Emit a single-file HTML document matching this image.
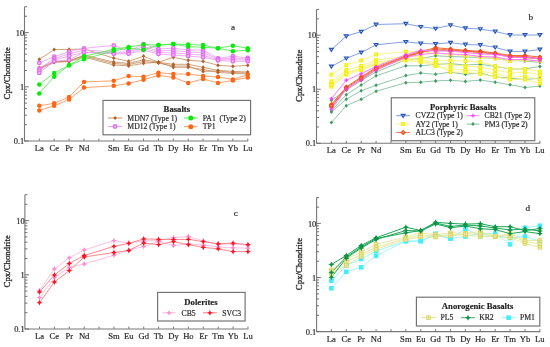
<!DOCTYPE html>
<html><head><meta charset="utf-8"><title>REE patterns</title>
<style>
html,body{margin:0;padding:0;background:#fff;}
body{width:550px;height:347px;overflow:hidden;font-family:"Liberation Serif",serif;}
svg{display:block;will-change:transform;}
</style></head><body>
<svg width="550" height="347" viewBox="0 0 550 347" font-family="Liberation Serif, serif" fill="#1e1e1e"><style>text{stroke:#2a2a2a;stroke-width:0.18px;}</style><rect width="550" height="347" fill="#fff"/><path d="M39.3 59.4 L54.19 49.6 L69.08 49.4 L83.97 49 L113.75 58.1 L128.64 61.3 L143.53 56.2 L158.42 62.3 L173.31 57.3 L188.2 60.3 L203.09 61.3 L217.98 65.3 L232.87 66.3 L247.76 65.3" fill="none" stroke="#c48a5a" stroke-width="0.8" stroke-linejoin="round"/><path d="M39.3 67.7 L54.19 61.5 L69.08 61.5 L83.97 55 L113.75 62.1 L128.64 63.3 L143.53 59.8 L158.42 62.3 L173.31 64.3 L188.2 64.3 L203.09 67.3 L217.98 70.4 L232.87 71.4 L247.76 72" fill="none" stroke="#c48a5a" stroke-width="0.8" stroke-linejoin="round"/><path d="M39.3 69 L54.19 62.5 L69.08 61.5 L83.97 57 L113.75 65 L128.64 65.9 L143.53 63.3 L158.42 62.3 L173.31 67.3 L188.2 67.3 L203.09 69.4 L217.98 72.4 L232.87 73.4 L247.76 74" fill="none" stroke="#c48a5a" stroke-width="0.8" stroke-linejoin="round"/><path d="M39.3 68.5 L54.19 62 L69.08 60.5 L83.97 56 L113.75 63.5 L128.64 64.5 L143.53 61.5 L158.42 63 L173.31 66 L188.2 66 L203.09 71.4 L217.98 71 L232.87 72.5 L247.76 73" fill="none" stroke="#c48a5a" stroke-width="0.8" stroke-linejoin="round"/><path d="M39.3 62.9 L54.19 56.7 L69.08 51.7 L83.97 48.3 L113.75 45.4 L128.64 51.2 L143.53 44.1 L158.42 49 L173.31 48.2 L188.2 50 L203.09 50 L217.98 58.3 L232.87 56.2 L247.76 57.9" fill="none" stroke="#ee99f4" stroke-width="0.8" stroke-linejoin="round"/><path d="M39.3 68.7 L54.19 58.5 L69.08 54 L83.97 50 L113.75 52 L128.64 52 L143.53 46.5 L158.42 51 L173.31 50.5 L188.2 52 L203.09 52.5 L217.98 59 L232.87 58 L247.76 59" fill="none" stroke="#ee99f4" stroke-width="0.8" stroke-linejoin="round"/><path d="M39.3 70.7 L54.19 60.2 L69.08 56 L83.97 52.3 L113.75 53 L128.64 53 L143.53 48.5 L158.42 52.5 L173.31 53 L188.2 54 L203.09 55 L217.98 60 L232.87 59.5 L247.76 60.3" fill="none" stroke="#ee99f4" stroke-width="0.8" stroke-linejoin="round"/><path d="M39.3 72.9 L54.19 61.3 L69.08 59.8 L83.97 52.3 L113.75 53.8 L128.64 53.8 L143.53 50.2 L158.42 54 L173.31 55.2 L188.2 56 L203.09 57.3 L217.98 60.3 L232.87 61.3 L247.76 61.3" fill="none" stroke="#ee99f4" stroke-width="0.8" stroke-linejoin="round"/><path d="M39.3 84.4 L54.19 72.9 L69.08 65.3 L83.97 56.3 L113.75 49.2 L128.64 47.1 L143.53 44.5 L158.42 45.1 L173.31 44.1 L188.2 44.5 L203.09 45.1 L217.98 48.2 L232.87 45.7 L247.76 48.2" fill="none" stroke="#40ec40" stroke-width="0.8" stroke-linejoin="round"/><path d="M39.3 93.4 L54.19 76.7 L69.08 65.3 L83.97 59.2 L113.75 50.8 L128.64 48.1 L143.53 49.8 L158.42 45.1 L173.31 44.1 L188.2 46.6 L203.09 47.2 L217.98 48.2 L232.87 51.2 L247.76 50.2" fill="none" stroke="#40ec40" stroke-width="0.8" stroke-linejoin="round"/><path d="M39.3 105.8 L54.19 103.3 L69.08 96.9 L83.97 82 L113.75 80.8 L128.64 76 L143.53 76.8 L158.42 72.7 L173.31 74 L188.2 74 L203.09 76 L217.98 77 L232.87 79.5 L247.76 74.8" fill="none" stroke="#ff8a4a" stroke-width="0.8" stroke-linejoin="round"/><path d="M39.3 110.4 L54.19 105.8 L69.08 99.5 L83.97 87.6 L113.75 85.8 L128.64 83.4 L143.53 79.8 L158.42 75.4 L173.31 77.4 L188.2 82.9 L203.09 78.9 L217.98 82.9 L232.87 80.5 L247.76 77.4" fill="none" stroke="#ff8a4a" stroke-width="0.8" stroke-linejoin="round"/><path d="M39.3 57.3L41.08 59.4L39.3 61.5L37.52 59.4Z" fill="#b0622a"/><path d="M54.19 47.5L55.97 49.6L54.19 51.7L52.41 49.6Z" fill="#b0622a"/><path d="M69.08 47.3L70.86 49.4L69.08 51.5L67.3 49.4Z" fill="#b0622a"/><path d="M83.97 46.9L85.75 49L83.97 51.1L82.19 49Z" fill="#b0622a"/><path d="M113.75 56L115.53 58.1L113.75 60.2L111.97 58.1Z" fill="#b0622a"/><path d="M128.64 59.2L130.42 61.3L128.64 63.4L126.85 61.3Z" fill="#b0622a"/><path d="M143.53 54.1L145.31 56.2L143.53 58.3L141.75 56.2Z" fill="#b0622a"/><path d="M158.42 60.2L160.21 62.3L158.42 64.4L156.64 62.3Z" fill="#b0622a"/><path d="M173.31 55.2L175.09 57.3L173.31 59.4L171.53 57.3Z" fill="#b0622a"/><path d="M188.2 58.2L189.98 60.3L188.2 62.4L186.41 60.3Z" fill="#b0622a"/><path d="M203.09 59.2L204.88 61.3L203.09 63.4L201.31 61.3Z" fill="#b0622a"/><path d="M217.98 63.2L219.77 65.3L217.98 67.4L216.2 65.3Z" fill="#b0622a"/><path d="M232.87 64.2L234.66 66.3L232.87 68.4L231.09 66.3Z" fill="#b0622a"/><path d="M247.76 63.2L249.54 65.3L247.76 67.4L245.97 65.3Z" fill="#b0622a"/><path d="M39.3 65.6L41.08 67.7L39.3 69.8L37.52 67.7Z" fill="#b0622a"/><path d="M54.19 59.4L55.97 61.5L54.19 63.6L52.41 61.5Z" fill="#b0622a"/><path d="M69.08 59.4L70.86 61.5L69.08 63.6L67.3 61.5Z" fill="#b0622a"/><path d="M83.97 52.9L85.75 55L83.97 57.1L82.19 55Z" fill="#b0622a"/><path d="M113.75 60L115.53 62.1L113.75 64.2L111.97 62.1Z" fill="#b0622a"/><path d="M128.64 61.2L130.42 63.3L128.64 65.4L126.85 63.3Z" fill="#b0622a"/><path d="M143.53 57.7L145.31 59.8L143.53 61.9L141.75 59.8Z" fill="#b0622a"/><path d="M158.42 60.2L160.21 62.3L158.42 64.4L156.64 62.3Z" fill="#b0622a"/><path d="M173.31 62.2L175.09 64.3L173.31 66.4L171.53 64.3Z" fill="#b0622a"/><path d="M188.2 62.2L189.98 64.3L188.2 66.4L186.41 64.3Z" fill="#b0622a"/><path d="M203.09 65.2L204.88 67.3L203.09 69.4L201.31 67.3Z" fill="#b0622a"/><path d="M217.98 68.3L219.77 70.4L217.98 72.5L216.2 70.4Z" fill="#b0622a"/><path d="M232.87 69.3L234.66 71.4L232.87 73.5L231.09 71.4Z" fill="#b0622a"/><path d="M247.76 69.9L249.54 72L247.76 74.1L245.97 72Z" fill="#b0622a"/><path d="M39.3 66.9L41.08 69L39.3 71.1L37.52 69Z" fill="#b0622a"/><path d="M54.19 60.4L55.97 62.5L54.19 64.6L52.41 62.5Z" fill="#b0622a"/><path d="M69.08 59.4L70.86 61.5L69.08 63.6L67.3 61.5Z" fill="#b0622a"/><path d="M83.97 54.9L85.75 57L83.97 59.1L82.19 57Z" fill="#b0622a"/><path d="M113.75 62.9L115.53 65L113.75 67.1L111.97 65Z" fill="#b0622a"/><path d="M128.64 63.8L130.42 65.9L128.64 68L126.85 65.9Z" fill="#b0622a"/><path d="M143.53 61.2L145.31 63.3L143.53 65.4L141.75 63.3Z" fill="#b0622a"/><path d="M158.42 60.2L160.21 62.3L158.42 64.4L156.64 62.3Z" fill="#b0622a"/><path d="M173.31 65.2L175.09 67.3L173.31 69.4L171.53 67.3Z" fill="#b0622a"/><path d="M188.2 65.2L189.98 67.3L188.2 69.4L186.41 67.3Z" fill="#b0622a"/><path d="M203.09 67.3L204.88 69.4L203.09 71.5L201.31 69.4Z" fill="#b0622a"/><path d="M217.98 70.3L219.77 72.4L217.98 74.5L216.2 72.4Z" fill="#b0622a"/><path d="M232.87 71.3L234.66 73.4L232.87 75.5L231.09 73.4Z" fill="#b0622a"/><path d="M247.76 71.9L249.54 74L247.76 76.1L245.97 74Z" fill="#b0622a"/><path d="M39.3 66.4L41.08 68.5L39.3 70.6L37.52 68.5Z" fill="#b0622a"/><path d="M54.19 59.9L55.97 62L54.19 64.1L52.41 62Z" fill="#b0622a"/><path d="M69.08 58.4L70.86 60.5L69.08 62.6L67.3 60.5Z" fill="#b0622a"/><path d="M83.97 53.9L85.75 56L83.97 58.1L82.19 56Z" fill="#b0622a"/><path d="M113.75 61.4L115.53 63.5L113.75 65.6L111.97 63.5Z" fill="#b0622a"/><path d="M128.64 62.4L130.42 64.5L128.64 66.6L126.85 64.5Z" fill="#b0622a"/><path d="M143.53 59.4L145.31 61.5L143.53 63.6L141.75 61.5Z" fill="#b0622a"/><path d="M158.42 60.9L160.21 63L158.42 65.1L156.64 63Z" fill="#b0622a"/><path d="M173.31 63.9L175.09 66L173.31 68.1L171.53 66Z" fill="#b0622a"/><path d="M188.2 63.9L189.98 66L188.2 68.1L186.41 66Z" fill="#b0622a"/><path d="M203.09 69.3L204.88 71.4L203.09 73.5L201.31 71.4Z" fill="#b0622a"/><path d="M217.98 68.9L219.77 71L217.98 73.1L216.2 71Z" fill="#b0622a"/><path d="M232.87 70.4L234.66 72.5L232.87 74.6L231.09 72.5Z" fill="#b0622a"/><path d="M247.76 70.9L249.54 73L247.76 75.1L245.97 73Z" fill="#b0622a"/><circle cx="39.3" cy="62.9" r="1.75" fill="#f4b8f8" stroke="#e46ef0" stroke-width="1.3"/><circle cx="54.19" cy="56.7" r="1.75" fill="#f4b8f8" stroke="#e46ef0" stroke-width="1.3"/><circle cx="69.08" cy="51.7" r="1.75" fill="#f4b8f8" stroke="#e46ef0" stroke-width="1.3"/><circle cx="83.97" cy="48.3" r="1.75" fill="#f4b8f8" stroke="#e46ef0" stroke-width="1.3"/><circle cx="113.75" cy="45.4" r="1.75" fill="#f4b8f8" stroke="#e46ef0" stroke-width="1.3"/><circle cx="128.64" cy="51.2" r="1.75" fill="#f4b8f8" stroke="#e46ef0" stroke-width="1.3"/><circle cx="143.53" cy="44.1" r="1.75" fill="#f4b8f8" stroke="#e46ef0" stroke-width="1.3"/><circle cx="158.42" cy="49" r="1.75" fill="#f4b8f8" stroke="#e46ef0" stroke-width="1.3"/><circle cx="173.31" cy="48.2" r="1.75" fill="#f4b8f8" stroke="#e46ef0" stroke-width="1.3"/><circle cx="188.2" cy="50" r="1.75" fill="#f4b8f8" stroke="#e46ef0" stroke-width="1.3"/><circle cx="203.09" cy="50" r="1.75" fill="#f4b8f8" stroke="#e46ef0" stroke-width="1.3"/><circle cx="217.98" cy="58.3" r="1.75" fill="#f4b8f8" stroke="#e46ef0" stroke-width="1.3"/><circle cx="232.87" cy="56.2" r="1.75" fill="#f4b8f8" stroke="#e46ef0" stroke-width="1.3"/><circle cx="247.76" cy="57.9" r="1.75" fill="#f4b8f8" stroke="#e46ef0" stroke-width="1.3"/><circle cx="39.3" cy="68.7" r="1.75" fill="#f4b8f8" stroke="#e46ef0" stroke-width="1.3"/><circle cx="54.19" cy="58.5" r="1.75" fill="#f4b8f8" stroke="#e46ef0" stroke-width="1.3"/><circle cx="69.08" cy="54" r="1.75" fill="#f4b8f8" stroke="#e46ef0" stroke-width="1.3"/><circle cx="83.97" cy="50" r="1.75" fill="#f4b8f8" stroke="#e46ef0" stroke-width="1.3"/><circle cx="113.75" cy="52" r="1.75" fill="#f4b8f8" stroke="#e46ef0" stroke-width="1.3"/><circle cx="128.64" cy="52" r="1.75" fill="#f4b8f8" stroke="#e46ef0" stroke-width="1.3"/><circle cx="143.53" cy="46.5" r="1.75" fill="#f4b8f8" stroke="#e46ef0" stroke-width="1.3"/><circle cx="158.42" cy="51" r="1.75" fill="#f4b8f8" stroke="#e46ef0" stroke-width="1.3"/><circle cx="173.31" cy="50.5" r="1.75" fill="#f4b8f8" stroke="#e46ef0" stroke-width="1.3"/><circle cx="188.2" cy="52" r="1.75" fill="#f4b8f8" stroke="#e46ef0" stroke-width="1.3"/><circle cx="203.09" cy="52.5" r="1.75" fill="#f4b8f8" stroke="#e46ef0" stroke-width="1.3"/><circle cx="217.98" cy="59" r="1.75" fill="#f4b8f8" stroke="#e46ef0" stroke-width="1.3"/><circle cx="232.87" cy="58" r="1.75" fill="#f4b8f8" stroke="#e46ef0" stroke-width="1.3"/><circle cx="247.76" cy="59" r="1.75" fill="#f4b8f8" stroke="#e46ef0" stroke-width="1.3"/><circle cx="39.3" cy="70.7" r="1.75" fill="#f4b8f8" stroke="#e46ef0" stroke-width="1.3"/><circle cx="54.19" cy="60.2" r="1.75" fill="#f4b8f8" stroke="#e46ef0" stroke-width="1.3"/><circle cx="69.08" cy="56" r="1.75" fill="#f4b8f8" stroke="#e46ef0" stroke-width="1.3"/><circle cx="83.97" cy="52.3" r="1.75" fill="#f4b8f8" stroke="#e46ef0" stroke-width="1.3"/><circle cx="113.75" cy="53" r="1.75" fill="#f4b8f8" stroke="#e46ef0" stroke-width="1.3"/><circle cx="128.64" cy="53" r="1.75" fill="#f4b8f8" stroke="#e46ef0" stroke-width="1.3"/><circle cx="143.53" cy="48.5" r="1.75" fill="#f4b8f8" stroke="#e46ef0" stroke-width="1.3"/><circle cx="158.42" cy="52.5" r="1.75" fill="#f4b8f8" stroke="#e46ef0" stroke-width="1.3"/><circle cx="173.31" cy="53" r="1.75" fill="#f4b8f8" stroke="#e46ef0" stroke-width="1.3"/><circle cx="188.2" cy="54" r="1.75" fill="#f4b8f8" stroke="#e46ef0" stroke-width="1.3"/><circle cx="203.09" cy="55" r="1.75" fill="#f4b8f8" stroke="#e46ef0" stroke-width="1.3"/><circle cx="217.98" cy="60" r="1.75" fill="#f4b8f8" stroke="#e46ef0" stroke-width="1.3"/><circle cx="232.87" cy="59.5" r="1.75" fill="#f4b8f8" stroke="#e46ef0" stroke-width="1.3"/><circle cx="247.76" cy="60.3" r="1.75" fill="#f4b8f8" stroke="#e46ef0" stroke-width="1.3"/><circle cx="39.3" cy="72.9" r="1.75" fill="#f4b8f8" stroke="#e46ef0" stroke-width="1.3"/><circle cx="54.19" cy="61.3" r="1.75" fill="#f4b8f8" stroke="#e46ef0" stroke-width="1.3"/><circle cx="69.08" cy="59.8" r="1.75" fill="#f4b8f8" stroke="#e46ef0" stroke-width="1.3"/><circle cx="83.97" cy="52.3" r="1.75" fill="#f4b8f8" stroke="#e46ef0" stroke-width="1.3"/><circle cx="113.75" cy="53.8" r="1.75" fill="#f4b8f8" stroke="#e46ef0" stroke-width="1.3"/><circle cx="128.64" cy="53.8" r="1.75" fill="#f4b8f8" stroke="#e46ef0" stroke-width="1.3"/><circle cx="143.53" cy="50.2" r="1.75" fill="#f4b8f8" stroke="#e46ef0" stroke-width="1.3"/><circle cx="158.42" cy="54" r="1.75" fill="#f4b8f8" stroke="#e46ef0" stroke-width="1.3"/><circle cx="173.31" cy="55.2" r="1.75" fill="#f4b8f8" stroke="#e46ef0" stroke-width="1.3"/><circle cx="188.2" cy="56" r="1.75" fill="#f4b8f8" stroke="#e46ef0" stroke-width="1.3"/><circle cx="203.09" cy="57.3" r="1.75" fill="#f4b8f8" stroke="#e46ef0" stroke-width="1.3"/><circle cx="217.98" cy="60.3" r="1.75" fill="#f4b8f8" stroke="#e46ef0" stroke-width="1.3"/><circle cx="232.87" cy="61.3" r="1.75" fill="#f4b8f8" stroke="#e46ef0" stroke-width="1.3"/><circle cx="247.76" cy="61.3" r="1.75" fill="#f4b8f8" stroke="#e46ef0" stroke-width="1.3"/><circle cx="39.3" cy="84.4" r="2.25" fill="#06ec06"/><circle cx="54.19" cy="72.9" r="2.25" fill="#06ec06"/><circle cx="69.08" cy="65.3" r="2.25" fill="#06ec06"/><circle cx="83.97" cy="56.3" r="2.25" fill="#06ec06"/><circle cx="113.75" cy="49.2" r="2.25" fill="#06ec06"/><circle cx="128.64" cy="47.1" r="2.25" fill="#06ec06"/><circle cx="143.53" cy="44.5" r="2.25" fill="#06ec06"/><circle cx="158.42" cy="45.1" r="2.25" fill="#06ec06"/><circle cx="173.31" cy="44.1" r="2.25" fill="#06ec06"/><circle cx="188.2" cy="44.5" r="2.25" fill="#06ec06"/><circle cx="203.09" cy="45.1" r="2.25" fill="#06ec06"/><circle cx="217.98" cy="48.2" r="2.25" fill="#06ec06"/><circle cx="232.87" cy="45.7" r="2.25" fill="#06ec06"/><circle cx="247.76" cy="48.2" r="2.25" fill="#06ec06"/><circle cx="39.3" cy="93.4" r="2.25" fill="#06ec06"/><circle cx="54.19" cy="76.7" r="2.25" fill="#06ec06"/><circle cx="69.08" cy="65.3" r="2.25" fill="#06ec06"/><circle cx="83.97" cy="59.2" r="2.25" fill="#06ec06"/><circle cx="113.75" cy="50.8" r="2.25" fill="#06ec06"/><circle cx="128.64" cy="48.1" r="2.25" fill="#06ec06"/><circle cx="143.53" cy="49.8" r="2.25" fill="#06ec06"/><circle cx="158.42" cy="45.1" r="2.25" fill="#06ec06"/><circle cx="173.31" cy="44.1" r="2.25" fill="#06ec06"/><circle cx="188.2" cy="46.6" r="2.25" fill="#06ec06"/><circle cx="203.09" cy="47.2" r="2.25" fill="#06ec06"/><circle cx="217.98" cy="48.2" r="2.25" fill="#06ec06"/><circle cx="232.87" cy="51.2" r="2.25" fill="#06ec06"/><circle cx="247.76" cy="50.2" r="2.25" fill="#06ec06"/><circle cx="39.3" cy="105.8" r="2.25" fill="#ff6614"/><circle cx="54.19" cy="103.3" r="2.25" fill="#ff6614"/><circle cx="69.08" cy="96.9" r="2.25" fill="#ff6614"/><circle cx="83.97" cy="82" r="2.25" fill="#ff6614"/><circle cx="113.75" cy="80.8" r="2.25" fill="#ff6614"/><circle cx="128.64" cy="76" r="2.25" fill="#ff6614"/><circle cx="143.53" cy="76.8" r="2.25" fill="#ff6614"/><circle cx="158.42" cy="72.7" r="2.25" fill="#ff6614"/><circle cx="173.31" cy="74" r="2.25" fill="#ff6614"/><circle cx="188.2" cy="74" r="2.25" fill="#ff6614"/><circle cx="203.09" cy="76" r="2.25" fill="#ff6614"/><circle cx="217.98" cy="77" r="2.25" fill="#ff6614"/><circle cx="232.87" cy="79.5" r="2.25" fill="#ff6614"/><circle cx="247.76" cy="74.8" r="2.25" fill="#ff6614"/><circle cx="39.3" cy="110.4" r="2.25" fill="#ff6614"/><circle cx="54.19" cy="105.8" r="2.25" fill="#ff6614"/><circle cx="69.08" cy="99.5" r="2.25" fill="#ff6614"/><circle cx="83.97" cy="87.6" r="2.25" fill="#ff6614"/><circle cx="113.75" cy="85.8" r="2.25" fill="#ff6614"/><circle cx="128.64" cy="83.4" r="2.25" fill="#ff6614"/><circle cx="143.53" cy="79.8" r="2.25" fill="#ff6614"/><circle cx="158.42" cy="75.4" r="2.25" fill="#ff6614"/><circle cx="173.31" cy="77.4" r="2.25" fill="#ff6614"/><circle cx="188.2" cy="82.9" r="2.25" fill="#ff6614"/><circle cx="203.09" cy="78.9" r="2.25" fill="#ff6614"/><circle cx="217.98" cy="82.9" r="2.25" fill="#ff6614"/><circle cx="232.87" cy="80.5" r="2.25" fill="#ff6614"/><circle cx="247.76" cy="77.4" r="2.25" fill="#ff6614"/><path d="M24.5 6.74V141H248.26" fill="none" stroke="#787878" stroke-width="1.1"/><path d="M24.5 141h4.2M24.5 124.68h2.5M24.5 115.14h2.5M24.5 108.37h2.5M24.5 103.12h2.5M24.5 98.82h2.5M24.5 95.2h2.5M24.5 92.05h2.5M24.5 89.28h2.5M24.5 86.8h4.2M24.5 70.48h2.5M24.5 60.94h2.5M24.5 54.17h2.5M24.5 48.92h2.5M24.5 44.62h2.5M24.5 41h2.5M24.5 37.85h2.5M24.5 35.08h2.5M24.5 32.6h4.2M24.5 16.28h2.5M24.5 6.74h2.5M39.3 140.7v-2.1M54.19 140.7v-2.1M69.08 140.7v-2.1M83.97 140.7v-2.1M98.86 140.7v-2.1M113.75 140.7v-2.1M128.64 140.7v-2.1M143.53 140.7v-2.1M158.42 140.7v-2.1M173.31 140.7v-2.1M188.2 140.7v-2.1M203.09 140.7v-2.1M217.98 140.7v-2.1M232.87 140.7v-2.1M247.76 140.7v-2.1" stroke="#6a6a6a" stroke-width="0.95" fill="none"/><text x="24.2" y="35.7" text-anchor="end" font-size="8.4">10</text><text x="24.2" y="89.9" text-anchor="end" font-size="8.4">1</text><text x="24.2" y="144.1" text-anchor="end" font-size="8.4">0.1</text><text x="39.3" y="151" text-anchor="middle" font-size="8.6">La</text><text x="54.19" y="151" text-anchor="middle" font-size="8.6">Ce</text><text x="69.08" y="151" text-anchor="middle" font-size="8.6">Pr</text><text x="83.97" y="151" text-anchor="middle" font-size="8.6">Nd</text><text x="113.75" y="151" text-anchor="middle" font-size="8.6">Sm</text><text x="128.64" y="151" text-anchor="middle" font-size="8.6">Eu</text><text x="143.53" y="151" text-anchor="middle" font-size="8.6">Gd</text><text x="158.42" y="151" text-anchor="middle" font-size="8.6">Tb</text><text x="173.31" y="151" text-anchor="middle" font-size="8.6">Dy</text><text x="188.2" y="151" text-anchor="middle" font-size="8.6">Ho</text><text x="203.09" y="151" text-anchor="middle" font-size="8.6">Er</text><text x="217.98" y="151" text-anchor="middle" font-size="8.6">Tm</text><text x="232.87" y="151" text-anchor="middle" font-size="8.6">Yb</text><text x="247.76" y="151" text-anchor="middle" font-size="8.6">Lu</text><text transform="translate(9.6 73.27) rotate(-90)" text-anchor="middle" font-size="8.8" style="stroke-width:0.32px">Cpx/Chondrite</text><text x="233" y="30.1" text-anchor="middle" font-size="9.2">a</text><rect x="103" y="100.4" width="147.6" height="34.4" fill="#fff" stroke="#707070" stroke-width="1.15"/><text x="163.6" y="111.6" font-size="8.7" font-weight="bold">Basalts</text><path d="M107.8 118H122.4" stroke="#c48a5a" stroke-width="0.9"/><path d="M115.1 115.9L116.88 118L115.1 120.1L113.31 118Z" fill="#b0622a"/><text x="127.3" y="120.7" font-size="7.7">MDN7 (Type 1)</text><path d="M107.8 126.5H122.4" stroke="#ee99f4" stroke-width="0.9"/><circle cx="115.1" cy="126.5" r="1.75" fill="#f4b8f8" stroke="#e46ef0" stroke-width="1.3"/><text x="127.3" y="129.2" font-size="7.7">MD12 (Type 1)</text><path d="M184 118H197.6" stroke="#40ec40" stroke-width="0.9"/><circle cx="190.8" cy="118" r="2.5" fill="#06ec06"/><text x="202.8" y="120.7" font-size="7.7">PA1&#160;&#160;(Type 2)</text><path d="M184 126.7H197.6" stroke="#ff8a4a" stroke-width="0.9"/><circle cx="190.8" cy="126.7" r="2.5" fill="#ff6614"/><text x="202.8" y="129.4" font-size="7.7">TP1</text><path d="M331.4 100.3 L346.29 90 L361.18 80.5 L376.07 72 L405.85 59.8 L420.74 58.5 L435.63 55.8 L450.52 56.5 L465.41 57 L480.3 57.5 L495.19 58.5 L510.08 60.5 L524.97 61 L539.86 62.4" fill="none" stroke="#78b894" stroke-width="0.8" stroke-linejoin="round"/><path d="M331.4 110.9 L346.29 94.7 L361.18 85 L376.07 75.8 L405.85 65.8 L420.74 65.8 L435.63 64.3 L450.52 63.7 L465.41 65 L480.3 64.3 L495.19 66.4 L510.08 69 L524.97 69 L539.86 66.4" fill="none" stroke="#78b894" stroke-width="0.8" stroke-linejoin="round"/><path d="M331.4 112 L346.29 99.2 L361.18 90.8 L376.07 85.3 L405.85 75.6 L420.74 73 L435.63 74.3 L450.52 72.2 L465.41 74.3 L480.3 73 L495.19 76.9 L510.08 78.2 L524.97 79.5 L539.86 78.2" fill="none" stroke="#78b894" stroke-width="0.8" stroke-linejoin="round"/><path d="M331.4 122.6 L346.29 105.7 L361.18 99.2 L376.07 91.3 L405.85 82.7 L420.74 82.2 L435.63 80.9 L450.52 80.3 L465.41 81.4 L480.3 80.1 L495.19 82.2 L510.08 84.8 L524.97 87.5 L539.86 86.1" fill="none" stroke="#78b894" stroke-width="0.8" stroke-linejoin="round"/><path d="M331.4 74.6 L346.29 65.1 L361.18 60.5 L376.07 54.4 L405.85 51.6 L420.74 51.9 L435.63 53.2 L450.52 54.5 L465.41 55.8 L480.3 57.1 L495.19 58.5 L510.08 61 L524.97 59.8 L539.86 61" fill="none" stroke="#f8f46a" stroke-width="0.8" stroke-linejoin="round"/><path d="M331.4 81.3 L346.29 70 L361.18 66 L376.07 60 L405.85 56.5 L420.74 57 L435.63 60 L450.52 60.5 L465.41 61 L480.3 62 L495.19 66 L510.08 69 L524.97 69 L539.86 71.6" fill="none" stroke="#f8f46a" stroke-width="0.8" stroke-linejoin="round"/><path d="M331.4 83.9 L346.29 72.5 L361.18 68 L376.07 62 L405.85 58.5 L420.74 59.5 L435.63 63 L450.52 65 L465.41 66 L480.3 67 L495.19 70 L510.08 73 L524.97 72 L539.86 75" fill="none" stroke="#f8f46a" stroke-width="0.8" stroke-linejoin="round"/><path d="M331.4 86.7 L346.29 74.6 L361.18 70 L376.07 64.5 L405.85 60.5 L420.74 62 L435.63 66 L450.52 69 L465.41 70 L480.3 71 L495.19 74 L510.08 77 L524.97 76.5 L539.86 79.5" fill="none" stroke="#f8f46a" stroke-width="0.8" stroke-linejoin="round"/><path d="M331.4 85 L346.29 73.5 L361.18 69 L376.07 63.5 L405.85 59.5 L420.74 60.5 L435.63 64.5 L450.52 72 L465.41 72 L480.3 74 L495.19 77 L510.08 79.5 L524.97 79.5 L539.86 83.5" fill="none" stroke="#f8f46a" stroke-width="0.8" stroke-linejoin="round"/><path d="M331.4 104.5 L346.29 87 L361.18 77 L376.07 67.5 L405.85 56 L420.74 51.5 L435.63 47.7 L450.52 49 L465.41 50.3 L480.3 51.2 L495.19 53 L510.08 55.5 L524.97 55.5 L539.86 57" fill="none" stroke="#f26a40" stroke-width="1.0" stroke-linejoin="round"/><path d="M331.4 107 L346.29 89 L361.18 79.5 L376.07 69.5 L405.85 57.5 L420.74 52.5 L435.63 48.8 L450.52 50 L465.41 51 L480.3 52 L495.19 53.5 L510.08 56.5 L524.97 56.5 L539.86 58.5" fill="none" stroke="#f26a40" stroke-width="1.0" stroke-linejoin="round"/><path d="M331.4 105.7 L346.29 88 L361.18 78 L376.07 68.5 L405.85 56.5 L420.74 52 L435.63 50 L450.52 51 L465.41 51.5 L480.3 52.5 L495.19 54 L510.08 57 L524.97 57.5 L539.86 59" fill="none" stroke="#f26a40" stroke-width="1.0" stroke-linejoin="round"/><path d="M331.4 98.6 L346.29 80.2 L361.18 73.8 L376.07 66.5 L405.85 54.7 L420.74 50.3 L435.63 51 L450.52 51 L465.41 52.5 L480.3 54 L495.19 54.5 L510.08 57 L524.97 57.5 L539.86 58.5" fill="none" stroke="#ff7cff" stroke-width="1.0" stroke-linejoin="round"/><path d="M331.4 109.4 L346.29 88.9 L361.18 80 L376.07 70 L405.85 57.5 L420.74 54.5 L435.63 53 L450.52 54 L465.41 54.5 L480.3 56.5 L495.19 57 L510.08 59.5 L524.97 59.5 L539.86 61" fill="none" stroke="#ff7cff" stroke-width="1.0" stroke-linejoin="round"/><path d="M331.4 49.7 L346.29 36.2 L361.18 31.7 L376.07 24.5 L405.85 23.7 L420.74 26.8 L435.63 28.6 L450.52 25.2 L465.41 28.2 L480.3 29.1 L495.19 31.4 L510.08 35 L524.97 35 L539.86 35" fill="none" stroke="#6488d8" stroke-width="0.8" stroke-linejoin="round"/><path d="M331.4 66.5 L346.29 58.3 L361.18 52.5 L376.07 44.8 L405.85 41.8 L420.74 43.4 L435.63 43.9 L450.52 42.7 L465.41 44.5 L480.3 45 L495.19 47.3 L510.08 51.4 L524.97 51.4 L539.86 49.5" fill="none" stroke="#6488d8" stroke-width="0.8" stroke-linejoin="round"/><path d="M331.4 98.3L333.1 100.3L331.4 102.3L329.7 100.3Z" fill="#3c9a64"/><path d="M346.29 88L347.99 90L346.29 92L344.59 90Z" fill="#3c9a64"/><path d="M361.18 78.5L362.88 80.5L361.18 82.5L359.48 80.5Z" fill="#3c9a64"/><path d="M376.07 70L377.77 72L376.07 74L374.37 72Z" fill="#3c9a64"/><path d="M405.85 57.8L407.55 59.8L405.85 61.79L404.15 59.8Z" fill="#3c9a64"/><path d="M420.74 56.51L422.44 58.5L420.74 60.49L419.04 58.5Z" fill="#3c9a64"/><path d="M435.63 53.8L437.33 55.8L435.63 57.79L433.93 55.8Z" fill="#3c9a64"/><path d="M450.52 54.51L452.22 56.5L450.52 58.49L448.82 56.5Z" fill="#3c9a64"/><path d="M465.41 55.01L467.11 57L465.41 58.99L463.71 57Z" fill="#3c9a64"/><path d="M480.3 55.51L482 57.5L480.3 59.49L478.6 57.5Z" fill="#3c9a64"/><path d="M495.19 56.51L496.89 58.5L495.19 60.49L493.49 58.5Z" fill="#3c9a64"/><path d="M510.08 58.51L511.78 60.5L510.08 62.49L508.38 60.5Z" fill="#3c9a64"/><path d="M524.97 59.01L526.67 61L524.97 62.99L523.27 61Z" fill="#3c9a64"/><path d="M539.86 60.41L541.56 62.4L539.86 64.39L538.16 62.4Z" fill="#3c9a64"/><path d="M331.4 108.91L333.1 110.9L331.4 112.9L329.7 110.9Z" fill="#3c9a64"/><path d="M346.29 92.7L347.99 94.7L346.29 96.7L344.59 94.7Z" fill="#3c9a64"/><path d="M361.18 83L362.88 85L361.18 87L359.48 85Z" fill="#3c9a64"/><path d="M376.07 73.8L377.77 75.8L376.07 77.8L374.37 75.8Z" fill="#3c9a64"/><path d="M405.85 63.8L407.55 65.8L405.85 67.8L404.15 65.8Z" fill="#3c9a64"/><path d="M420.74 63.8L422.44 65.8L420.74 67.8L419.04 65.8Z" fill="#3c9a64"/><path d="M435.63 62.3L437.33 64.3L435.63 66.3L433.93 64.3Z" fill="#3c9a64"/><path d="M450.52 61.71L452.22 63.7L450.52 65.7L448.82 63.7Z" fill="#3c9a64"/><path d="M465.41 63.01L467.11 65L465.41 67L463.71 65Z" fill="#3c9a64"/><path d="M480.3 62.3L482 64.3L480.3 66.3L478.6 64.3Z" fill="#3c9a64"/><path d="M495.19 64.41L496.89 66.4L495.19 68.4L493.49 66.4Z" fill="#3c9a64"/><path d="M510.08 67L511.78 69L510.08 71L508.38 69Z" fill="#3c9a64"/><path d="M524.97 67L526.67 69L524.97 71L523.27 69Z" fill="#3c9a64"/><path d="M539.86 64.41L541.56 66.4L539.86 68.4L538.16 66.4Z" fill="#3c9a64"/><path d="M331.4 110L333.1 112L331.4 114L329.7 112Z" fill="#3c9a64"/><path d="M346.29 97.2L347.99 99.2L346.29 101.2L344.59 99.2Z" fill="#3c9a64"/><path d="M361.18 88.8L362.88 90.8L361.18 92.8L359.48 90.8Z" fill="#3c9a64"/><path d="M376.07 83.3L377.77 85.3L376.07 87.3L374.37 85.3Z" fill="#3c9a64"/><path d="M405.85 73.6L407.55 75.6L405.85 77.59L404.15 75.6Z" fill="#3c9a64"/><path d="M420.74 71L422.44 73L420.74 75L419.04 73Z" fill="#3c9a64"/><path d="M435.63 72.3L437.33 74.3L435.63 76.3L433.93 74.3Z" fill="#3c9a64"/><path d="M450.52 70.2L452.22 72.2L450.52 74.2L448.82 72.2Z" fill="#3c9a64"/><path d="M465.41 72.3L467.11 74.3L465.41 76.3L463.71 74.3Z" fill="#3c9a64"/><path d="M480.3 71L482 73L480.3 75L478.6 73Z" fill="#3c9a64"/><path d="M495.19 74.91L496.89 76.9L495.19 78.9L493.49 76.9Z" fill="#3c9a64"/><path d="M510.08 76.2L511.78 78.2L510.08 80.2L508.38 78.2Z" fill="#3c9a64"/><path d="M524.97 77.5L526.67 79.5L524.97 81.5L523.27 79.5Z" fill="#3c9a64"/><path d="M539.86 76.2L541.56 78.2L539.86 80.2L538.16 78.2Z" fill="#3c9a64"/><path d="M331.4 120.6L333.1 122.6L331.4 124.59L329.7 122.6Z" fill="#3c9a64"/><path d="M346.29 103.7L347.99 105.7L346.29 107.7L344.59 105.7Z" fill="#3c9a64"/><path d="M361.18 97.2L362.88 99.2L361.18 101.2L359.48 99.2Z" fill="#3c9a64"/><path d="M376.07 89.3L377.77 91.3L376.07 93.3L374.37 91.3Z" fill="#3c9a64"/><path d="M405.85 80.7L407.55 82.7L405.85 84.7L404.15 82.7Z" fill="#3c9a64"/><path d="M420.74 80.2L422.44 82.2L420.74 84.2L419.04 82.2Z" fill="#3c9a64"/><path d="M435.63 78.91L437.33 80.9L435.63 82.9L433.93 80.9Z" fill="#3c9a64"/><path d="M450.52 78.3L452.22 80.3L450.52 82.3L448.82 80.3Z" fill="#3c9a64"/><path d="M465.41 79.41L467.11 81.4L465.41 83.4L463.71 81.4Z" fill="#3c9a64"/><path d="M480.3 78.1L482 80.1L480.3 82.09L478.6 80.1Z" fill="#3c9a64"/><path d="M495.19 80.2L496.89 82.2L495.19 84.2L493.49 82.2Z" fill="#3c9a64"/><path d="M510.08 82.8L511.78 84.8L510.08 86.8L508.38 84.8Z" fill="#3c9a64"/><path d="M524.97 85.5L526.67 87.5L524.97 89.5L523.27 87.5Z" fill="#3c9a64"/><path d="M539.86 84.1L541.56 86.1L539.86 88.09L538.16 86.1Z" fill="#3c9a64"/><rect x="330" y="73.2" width="2.8" height="2.8" fill="#f8f480" stroke="#f4f000" stroke-width="1.1"/><rect x="344.89" y="63.7" width="2.8" height="2.8" fill="#f8f480" stroke="#f4f000" stroke-width="1.1"/><rect x="359.78" y="59.1" width="2.8" height="2.8" fill="#f8f480" stroke="#f4f000" stroke-width="1.1"/><rect x="374.67" y="53" width="2.8" height="2.8" fill="#f8f480" stroke="#f4f000" stroke-width="1.1"/><rect x="404.45" y="50.2" width="2.8" height="2.8" fill="#f8f480" stroke="#f4f000" stroke-width="1.1"/><rect x="419.34" y="50.5" width="2.8" height="2.8" fill="#f8f480" stroke="#f4f000" stroke-width="1.1"/><rect x="434.23" y="51.8" width="2.8" height="2.8" fill="#f8f480" stroke="#f4f000" stroke-width="1.1"/><rect x="449.12" y="53.1" width="2.8" height="2.8" fill="#f8f480" stroke="#f4f000" stroke-width="1.1"/><rect x="464.01" y="54.4" width="2.8" height="2.8" fill="#f8f480" stroke="#f4f000" stroke-width="1.1"/><rect x="478.9" y="55.7" width="2.8" height="2.8" fill="#f8f480" stroke="#f4f000" stroke-width="1.1"/><rect x="493.79" y="57.1" width="2.8" height="2.8" fill="#f8f480" stroke="#f4f000" stroke-width="1.1"/><rect x="508.68" y="59.6" width="2.8" height="2.8" fill="#f8f480" stroke="#f4f000" stroke-width="1.1"/><rect x="523.57" y="58.4" width="2.8" height="2.8" fill="#f8f480" stroke="#f4f000" stroke-width="1.1"/><rect x="538.46" y="59.6" width="2.8" height="2.8" fill="#f8f480" stroke="#f4f000" stroke-width="1.1"/><rect x="330" y="79.9" width="2.8" height="2.8" fill="#f8f480" stroke="#f4f000" stroke-width="1.1"/><rect x="344.89" y="68.6" width="2.8" height="2.8" fill="#f8f480" stroke="#f4f000" stroke-width="1.1"/><rect x="359.78" y="64.6" width="2.8" height="2.8" fill="#f8f480" stroke="#f4f000" stroke-width="1.1"/><rect x="374.67" y="58.6" width="2.8" height="2.8" fill="#f8f480" stroke="#f4f000" stroke-width="1.1"/><rect x="404.45" y="55.1" width="2.8" height="2.8" fill="#f8f480" stroke="#f4f000" stroke-width="1.1"/><rect x="419.34" y="55.6" width="2.8" height="2.8" fill="#f8f480" stroke="#f4f000" stroke-width="1.1"/><rect x="434.23" y="58.6" width="2.8" height="2.8" fill="#f8f480" stroke="#f4f000" stroke-width="1.1"/><rect x="449.12" y="59.1" width="2.8" height="2.8" fill="#f8f480" stroke="#f4f000" stroke-width="1.1"/><rect x="464.01" y="59.6" width="2.8" height="2.8" fill="#f8f480" stroke="#f4f000" stroke-width="1.1"/><rect x="478.9" y="60.6" width="2.8" height="2.8" fill="#f8f480" stroke="#f4f000" stroke-width="1.1"/><rect x="493.79" y="64.6" width="2.8" height="2.8" fill="#f8f480" stroke="#f4f000" stroke-width="1.1"/><rect x="508.68" y="67.6" width="2.8" height="2.8" fill="#f8f480" stroke="#f4f000" stroke-width="1.1"/><rect x="523.57" y="67.6" width="2.8" height="2.8" fill="#f8f480" stroke="#f4f000" stroke-width="1.1"/><rect x="538.46" y="70.2" width="2.8" height="2.8" fill="#f8f480" stroke="#f4f000" stroke-width="1.1"/><rect x="330" y="82.5" width="2.8" height="2.8" fill="#f8f480" stroke="#f4f000" stroke-width="1.1"/><rect x="344.89" y="71.1" width="2.8" height="2.8" fill="#f8f480" stroke="#f4f000" stroke-width="1.1"/><rect x="359.78" y="66.6" width="2.8" height="2.8" fill="#f8f480" stroke="#f4f000" stroke-width="1.1"/><rect x="374.67" y="60.6" width="2.8" height="2.8" fill="#f8f480" stroke="#f4f000" stroke-width="1.1"/><rect x="404.45" y="57.1" width="2.8" height="2.8" fill="#f8f480" stroke="#f4f000" stroke-width="1.1"/><rect x="419.34" y="58.1" width="2.8" height="2.8" fill="#f8f480" stroke="#f4f000" stroke-width="1.1"/><rect x="434.23" y="61.6" width="2.8" height="2.8" fill="#f8f480" stroke="#f4f000" stroke-width="1.1"/><rect x="449.12" y="63.6" width="2.8" height="2.8" fill="#f8f480" stroke="#f4f000" stroke-width="1.1"/><rect x="464.01" y="64.6" width="2.8" height="2.8" fill="#f8f480" stroke="#f4f000" stroke-width="1.1"/><rect x="478.9" y="65.6" width="2.8" height="2.8" fill="#f8f480" stroke="#f4f000" stroke-width="1.1"/><rect x="493.79" y="68.6" width="2.8" height="2.8" fill="#f8f480" stroke="#f4f000" stroke-width="1.1"/><rect x="508.68" y="71.6" width="2.8" height="2.8" fill="#f8f480" stroke="#f4f000" stroke-width="1.1"/><rect x="523.57" y="70.6" width="2.8" height="2.8" fill="#f8f480" stroke="#f4f000" stroke-width="1.1"/><rect x="538.46" y="73.6" width="2.8" height="2.8" fill="#f8f480" stroke="#f4f000" stroke-width="1.1"/><rect x="330" y="85.3" width="2.8" height="2.8" fill="#f8f480" stroke="#f4f000" stroke-width="1.1"/><rect x="344.89" y="73.2" width="2.8" height="2.8" fill="#f8f480" stroke="#f4f000" stroke-width="1.1"/><rect x="359.78" y="68.6" width="2.8" height="2.8" fill="#f8f480" stroke="#f4f000" stroke-width="1.1"/><rect x="374.67" y="63.1" width="2.8" height="2.8" fill="#f8f480" stroke="#f4f000" stroke-width="1.1"/><rect x="404.45" y="59.1" width="2.8" height="2.8" fill="#f8f480" stroke="#f4f000" stroke-width="1.1"/><rect x="419.34" y="60.6" width="2.8" height="2.8" fill="#f8f480" stroke="#f4f000" stroke-width="1.1"/><rect x="434.23" y="64.6" width="2.8" height="2.8" fill="#f8f480" stroke="#f4f000" stroke-width="1.1"/><rect x="449.12" y="67.6" width="2.8" height="2.8" fill="#f8f480" stroke="#f4f000" stroke-width="1.1"/><rect x="464.01" y="68.6" width="2.8" height="2.8" fill="#f8f480" stroke="#f4f000" stroke-width="1.1"/><rect x="478.9" y="69.6" width="2.8" height="2.8" fill="#f8f480" stroke="#f4f000" stroke-width="1.1"/><rect x="493.79" y="72.6" width="2.8" height="2.8" fill="#f8f480" stroke="#f4f000" stroke-width="1.1"/><rect x="508.68" y="75.6" width="2.8" height="2.8" fill="#f8f480" stroke="#f4f000" stroke-width="1.1"/><rect x="523.57" y="75.1" width="2.8" height="2.8" fill="#f8f480" stroke="#f4f000" stroke-width="1.1"/><rect x="538.46" y="78.1" width="2.8" height="2.8" fill="#f8f480" stroke="#f4f000" stroke-width="1.1"/><rect x="330" y="83.6" width="2.8" height="2.8" fill="#f8f480" stroke="#f4f000" stroke-width="1.1"/><rect x="344.89" y="72.1" width="2.8" height="2.8" fill="#f8f480" stroke="#f4f000" stroke-width="1.1"/><rect x="359.78" y="67.6" width="2.8" height="2.8" fill="#f8f480" stroke="#f4f000" stroke-width="1.1"/><rect x="374.67" y="62.1" width="2.8" height="2.8" fill="#f8f480" stroke="#f4f000" stroke-width="1.1"/><rect x="404.45" y="58.1" width="2.8" height="2.8" fill="#f8f480" stroke="#f4f000" stroke-width="1.1"/><rect x="419.34" y="59.1" width="2.8" height="2.8" fill="#f8f480" stroke="#f4f000" stroke-width="1.1"/><rect x="434.23" y="63.1" width="2.8" height="2.8" fill="#f8f480" stroke="#f4f000" stroke-width="1.1"/><rect x="449.12" y="70.6" width="2.8" height="2.8" fill="#f8f480" stroke="#f4f000" stroke-width="1.1"/><rect x="464.01" y="70.6" width="2.8" height="2.8" fill="#f8f480" stroke="#f4f000" stroke-width="1.1"/><rect x="478.9" y="72.6" width="2.8" height="2.8" fill="#f8f480" stroke="#f4f000" stroke-width="1.1"/><rect x="493.79" y="75.6" width="2.8" height="2.8" fill="#f8f480" stroke="#f4f000" stroke-width="1.1"/><rect x="508.68" y="78.1" width="2.8" height="2.8" fill="#f8f480" stroke="#f4f000" stroke-width="1.1"/><rect x="523.57" y="78.1" width="2.8" height="2.8" fill="#f8f480" stroke="#f4f000" stroke-width="1.1"/><rect x="538.46" y="82.1" width="2.8" height="2.8" fill="#f8f480" stroke="#f4f000" stroke-width="1.1"/><path d="M331.4 102.74L333.16 104.5L331.4 106.26L329.64 104.5Z" fill="#f8a890" stroke="#f04818" stroke-width="1.1"/><path d="M346.29 85.24L348.05 87L346.29 88.76L344.53 87Z" fill="#f8a890" stroke="#f04818" stroke-width="1.1"/><path d="M361.18 75.24L362.94 77L361.18 78.76L359.42 77Z" fill="#f8a890" stroke="#f04818" stroke-width="1.1"/><path d="M376.07 65.74L377.83 67.5L376.07 69.26L374.31 67.5Z" fill="#f8a890" stroke="#f04818" stroke-width="1.1"/><path d="M405.85 54.24L407.61 56L405.85 57.76L404.09 56Z" fill="#f8a890" stroke="#f04818" stroke-width="1.1"/><path d="M420.74 49.74L422.5 51.5L420.74 53.26L418.98 51.5Z" fill="#f8a890" stroke="#f04818" stroke-width="1.1"/><path d="M435.63 45.94L437.39 47.7L435.63 49.46L433.87 47.7Z" fill="#f8a890" stroke="#f04818" stroke-width="1.1"/><path d="M450.52 47.24L452.28 49L450.52 50.76L448.76 49Z" fill="#f8a890" stroke="#f04818" stroke-width="1.1"/><path d="M465.41 48.54L467.17 50.3L465.41 52.06L463.65 50.3Z" fill="#f8a890" stroke="#f04818" stroke-width="1.1"/><path d="M480.3 49.44L482.06 51.2L480.3 52.96L478.54 51.2Z" fill="#f8a890" stroke="#f04818" stroke-width="1.1"/><path d="M495.19 51.24L496.95 53L495.19 54.76L493.43 53Z" fill="#f8a890" stroke="#f04818" stroke-width="1.1"/><path d="M510.08 53.74L511.84 55.5L510.08 57.26L508.32 55.5Z" fill="#f8a890" stroke="#f04818" stroke-width="1.1"/><path d="M524.97 53.74L526.73 55.5L524.97 57.26L523.21 55.5Z" fill="#f8a890" stroke="#f04818" stroke-width="1.1"/><path d="M539.86 55.24L541.62 57L539.86 58.76L538.1 57Z" fill="#f8a890" stroke="#f04818" stroke-width="1.1"/><path d="M331.4 105.24L333.16 107L331.4 108.76L329.64 107Z" fill="#f8a890" stroke="#f04818" stroke-width="1.1"/><path d="M346.29 87.24L348.05 89L346.29 90.76L344.53 89Z" fill="#f8a890" stroke="#f04818" stroke-width="1.1"/><path d="M361.18 77.74L362.94 79.5L361.18 81.26L359.42 79.5Z" fill="#f8a890" stroke="#f04818" stroke-width="1.1"/><path d="M376.07 67.74L377.83 69.5L376.07 71.26L374.31 69.5Z" fill="#f8a890" stroke="#f04818" stroke-width="1.1"/><path d="M405.85 55.74L407.61 57.5L405.85 59.26L404.09 57.5Z" fill="#f8a890" stroke="#f04818" stroke-width="1.1"/><path d="M420.74 50.74L422.5 52.5L420.74 54.26L418.98 52.5Z" fill="#f8a890" stroke="#f04818" stroke-width="1.1"/><path d="M435.63 47.04L437.39 48.8L435.63 50.56L433.87 48.8Z" fill="#f8a890" stroke="#f04818" stroke-width="1.1"/><path d="M450.52 48.24L452.28 50L450.52 51.76L448.76 50Z" fill="#f8a890" stroke="#f04818" stroke-width="1.1"/><path d="M465.41 49.24L467.17 51L465.41 52.76L463.65 51Z" fill="#f8a890" stroke="#f04818" stroke-width="1.1"/><path d="M480.3 50.24L482.06 52L480.3 53.76L478.54 52Z" fill="#f8a890" stroke="#f04818" stroke-width="1.1"/><path d="M495.19 51.74L496.95 53.5L495.19 55.26L493.43 53.5Z" fill="#f8a890" stroke="#f04818" stroke-width="1.1"/><path d="M510.08 54.74L511.84 56.5L510.08 58.26L508.32 56.5Z" fill="#f8a890" stroke="#f04818" stroke-width="1.1"/><path d="M524.97 54.74L526.73 56.5L524.97 58.26L523.21 56.5Z" fill="#f8a890" stroke="#f04818" stroke-width="1.1"/><path d="M539.86 56.74L541.62 58.5L539.86 60.26L538.1 58.5Z" fill="#f8a890" stroke="#f04818" stroke-width="1.1"/><path d="M331.4 103.94L333.16 105.7L331.4 107.46L329.64 105.7Z" fill="#f8a890" stroke="#f04818" stroke-width="1.1"/><path d="M346.29 86.24L348.05 88L346.29 89.76L344.53 88Z" fill="#f8a890" stroke="#f04818" stroke-width="1.1"/><path d="M361.18 76.24L362.94 78L361.18 79.76L359.42 78Z" fill="#f8a890" stroke="#f04818" stroke-width="1.1"/><path d="M376.07 66.74L377.83 68.5L376.07 70.26L374.31 68.5Z" fill="#f8a890" stroke="#f04818" stroke-width="1.1"/><path d="M405.85 54.74L407.61 56.5L405.85 58.26L404.09 56.5Z" fill="#f8a890" stroke="#f04818" stroke-width="1.1"/><path d="M420.74 50.24L422.5 52L420.74 53.76L418.98 52Z" fill="#f8a890" stroke="#f04818" stroke-width="1.1"/><path d="M435.63 48.24L437.39 50L435.63 51.76L433.87 50Z" fill="#f8a890" stroke="#f04818" stroke-width="1.1"/><path d="M450.52 49.24L452.28 51L450.52 52.76L448.76 51Z" fill="#f8a890" stroke="#f04818" stroke-width="1.1"/><path d="M465.41 49.74L467.17 51.5L465.41 53.26L463.65 51.5Z" fill="#f8a890" stroke="#f04818" stroke-width="1.1"/><path d="M480.3 50.74L482.06 52.5L480.3 54.26L478.54 52.5Z" fill="#f8a890" stroke="#f04818" stroke-width="1.1"/><path d="M495.19 52.24L496.95 54L495.19 55.76L493.43 54Z" fill="#f8a890" stroke="#f04818" stroke-width="1.1"/><path d="M510.08 55.24L511.84 57L510.08 58.76L508.32 57Z" fill="#f8a890" stroke="#f04818" stroke-width="1.1"/><path d="M524.97 55.74L526.73 57.5L524.97 59.26L523.21 57.5Z" fill="#f8a890" stroke="#f04818" stroke-width="1.1"/><path d="M539.86 57.24L541.62 59L539.86 60.76L538.1 59Z" fill="#f8a890" stroke="#f04818" stroke-width="1.1"/><path d="M329.53 98.6H333.27M331.4 96.73V100.47" stroke="#ff3cff" stroke-width="1.2"/><path d="M344.42 80.2H348.16M346.29 78.33V82.07" stroke="#ff3cff" stroke-width="1.2"/><path d="M359.31 73.8H363.05M361.18 71.93V75.67" stroke="#ff3cff" stroke-width="1.2"/><path d="M374.2 66.5H377.94M376.07 64.63V68.37" stroke="#ff3cff" stroke-width="1.2"/><path d="M403.98 54.7H407.72M405.85 52.83V56.57" stroke="#ff3cff" stroke-width="1.2"/><path d="M418.87 50.3H422.61M420.74 48.43V52.17" stroke="#ff3cff" stroke-width="1.2"/><path d="M433.76 51H437.5M435.63 49.13V52.87" stroke="#ff3cff" stroke-width="1.2"/><path d="M448.65 51H452.39M450.52 49.13V52.87" stroke="#ff3cff" stroke-width="1.2"/><path d="M463.54 52.5H467.28M465.41 50.63V54.37" stroke="#ff3cff" stroke-width="1.2"/><path d="M478.43 54H482.17M480.3 52.13V55.87" stroke="#ff3cff" stroke-width="1.2"/><path d="M493.32 54.5H497.06M495.19 52.63V56.37" stroke="#ff3cff" stroke-width="1.2"/><path d="M508.21 57H511.95M510.08 55.13V58.87" stroke="#ff3cff" stroke-width="1.2"/><path d="M523.1 57.5H526.84M524.97 55.63V59.37" stroke="#ff3cff" stroke-width="1.2"/><path d="M537.99 58.5H541.73M539.86 56.63V60.37" stroke="#ff3cff" stroke-width="1.2"/><path d="M329.53 109.4H333.27M331.4 107.53V111.27" stroke="#ff3cff" stroke-width="1.2"/><path d="M344.42 88.9H348.16M346.29 87.03V90.77" stroke="#ff3cff" stroke-width="1.2"/><path d="M359.31 80H363.05M361.18 78.13V81.87" stroke="#ff3cff" stroke-width="1.2"/><path d="M374.2 70H377.94M376.07 68.13V71.87" stroke="#ff3cff" stroke-width="1.2"/><path d="M403.98 57.5H407.72M405.85 55.63V59.37" stroke="#ff3cff" stroke-width="1.2"/><path d="M418.87 54.5H422.61M420.74 52.63V56.37" stroke="#ff3cff" stroke-width="1.2"/><path d="M433.76 53H437.5M435.63 51.13V54.87" stroke="#ff3cff" stroke-width="1.2"/><path d="M448.65 54H452.39M450.52 52.13V55.87" stroke="#ff3cff" stroke-width="1.2"/><path d="M463.54 54.5H467.28M465.41 52.63V56.37" stroke="#ff3cff" stroke-width="1.2"/><path d="M478.43 56.5H482.17M480.3 54.63V58.37" stroke="#ff3cff" stroke-width="1.2"/><path d="M493.32 57H497.06M495.19 55.13V58.87" stroke="#ff3cff" stroke-width="1.2"/><path d="M508.21 59.5H511.95M510.08 57.63V61.37" stroke="#ff3cff" stroke-width="1.2"/><path d="M523.1 59.5H526.84M524.97 57.63V61.37" stroke="#ff3cff" stroke-width="1.2"/><path d="M537.99 61H541.73M539.86 59.13V62.87" stroke="#ff3cff" stroke-width="1.2"/><path d="M329.47 48.35L333.32 48.35L331.4 51.43Z" fill="#c8d4f0" stroke="#2552b8" stroke-width="1.1"/><path d="M344.36 34.85L348.21 34.85L346.29 37.93Z" fill="#c8d4f0" stroke="#2552b8" stroke-width="1.1"/><path d="M359.25 30.35L363.1 30.35L361.18 33.43Z" fill="#c8d4f0" stroke="#2552b8" stroke-width="1.1"/><path d="M374.14 23.15L378 23.15L376.07 26.23Z" fill="#c8d4f0" stroke="#2552b8" stroke-width="1.1"/><path d="M403.92 22.35L407.77 22.35L405.85 25.43Z" fill="#c8d4f0" stroke="#2552b8" stroke-width="1.1"/><path d="M418.81 25.45L422.67 25.45L420.74 28.53Z" fill="#c8d4f0" stroke="#2552b8" stroke-width="1.1"/><path d="M433.7 27.25L437.56 27.25L435.63 30.33Z" fill="#c8d4f0" stroke="#2552b8" stroke-width="1.1"/><path d="M448.59 23.85L452.44 23.85L450.52 26.93Z" fill="#c8d4f0" stroke="#2552b8" stroke-width="1.1"/><path d="M463.48 26.85L467.33 26.85L465.41 29.93Z" fill="#c8d4f0" stroke="#2552b8" stroke-width="1.1"/><path d="M478.37 27.75L482.22 27.75L480.3 30.83Z" fill="#c8d4f0" stroke="#2552b8" stroke-width="1.1"/><path d="M493.26 30.05L497.12 30.05L495.19 33.13Z" fill="#c8d4f0" stroke="#2552b8" stroke-width="1.1"/><path d="M508.15 33.65L512 33.65L510.08 36.73Z" fill="#c8d4f0" stroke="#2552b8" stroke-width="1.1"/><path d="M523.05 33.65L526.89 33.65L524.97 36.73Z" fill="#c8d4f0" stroke="#2552b8" stroke-width="1.1"/><path d="M537.94 33.65L541.78 33.65L539.86 36.73Z" fill="#c8d4f0" stroke="#2552b8" stroke-width="1.1"/><path d="M329.47 65.15L333.32 65.15L331.4 68.23Z" fill="#c8d4f0" stroke="#2552b8" stroke-width="1.1"/><path d="M344.36 56.95L348.21 56.95L346.29 60.03Z" fill="#c8d4f0" stroke="#2552b8" stroke-width="1.1"/><path d="M359.25 51.15L363.1 51.15L361.18 54.23Z" fill="#c8d4f0" stroke="#2552b8" stroke-width="1.1"/><path d="M374.14 43.45L378 43.45L376.07 46.53Z" fill="#c8d4f0" stroke="#2552b8" stroke-width="1.1"/><path d="M403.92 40.45L407.77 40.45L405.85 43.53Z" fill="#c8d4f0" stroke="#2552b8" stroke-width="1.1"/><path d="M418.81 42.05L422.67 42.05L420.74 45.13Z" fill="#c8d4f0" stroke="#2552b8" stroke-width="1.1"/><path d="M433.7 42.55L437.56 42.55L435.63 45.63Z" fill="#c8d4f0" stroke="#2552b8" stroke-width="1.1"/><path d="M448.59 41.35L452.44 41.35L450.52 44.43Z" fill="#c8d4f0" stroke="#2552b8" stroke-width="1.1"/><path d="M463.48 43.15L467.33 43.15L465.41 46.23Z" fill="#c8d4f0" stroke="#2552b8" stroke-width="1.1"/><path d="M478.37 43.65L482.22 43.65L480.3 46.73Z" fill="#c8d4f0" stroke="#2552b8" stroke-width="1.1"/><path d="M493.26 45.95L497.12 45.95L495.19 49.03Z" fill="#c8d4f0" stroke="#2552b8" stroke-width="1.1"/><path d="M508.15 50.05L512 50.05L510.08 53.13Z" fill="#c8d4f0" stroke="#2552b8" stroke-width="1.1"/><path d="M523.05 50.05L526.89 50.05L524.97 53.13Z" fill="#c8d4f0" stroke="#2552b8" stroke-width="1.1"/><path d="M537.94 48.15L541.78 48.15L539.86 51.23Z" fill="#c8d4f0" stroke="#2552b8" stroke-width="1.1"/><path d="M316.5 9.41V143.3H540.36" fill="none" stroke="#787878" stroke-width="1.1"/><path d="M316.5 143.3h4.2M316.5 127.03h2.5M316.5 117.51h2.5M316.5 110.76h2.5M316.5 105.52h2.5M316.5 101.24h2.5M316.5 97.62h2.5M316.5 94.49h2.5M316.5 91.72h2.5M316.5 89.25h4.2M316.5 72.98h2.5M316.5 63.46h2.5M316.5 56.71h2.5M316.5 51.47h2.5M316.5 47.19h2.5M316.5 43.57h2.5M316.5 40.44h2.5M316.5 37.67h2.5M316.5 35.2h4.2M316.5 18.93h2.5M316.5 9.41h2.5M331.4 143v-2.1M346.29 143v-2.1M361.18 143v-2.1M376.07 143v-2.1M390.96 143v-2.1M405.85 143v-2.1M420.74 143v-2.1M435.63 143v-2.1M450.52 143v-2.1M465.41 143v-2.1M480.3 143v-2.1M495.19 143v-2.1M510.08 143v-2.1M524.97 143v-2.1M539.86 143v-2.1" stroke="#6a6a6a" stroke-width="0.95" fill="none"/><text x="316.2" y="38.3" text-anchor="end" font-size="8.4">10</text><text x="316.2" y="92.35" text-anchor="end" font-size="8.4">1</text><text x="316.2" y="146.4" text-anchor="end" font-size="8.4">0.1</text><text x="331.4" y="153.3" text-anchor="middle" font-size="8.6">La</text><text x="346.29" y="153.3" text-anchor="middle" font-size="8.6">Ce</text><text x="361.18" y="153.3" text-anchor="middle" font-size="8.6">Pr</text><text x="376.07" y="153.3" text-anchor="middle" font-size="8.6">Nd</text><text x="405.85" y="153.3" text-anchor="middle" font-size="8.6">Sm</text><text x="420.74" y="153.3" text-anchor="middle" font-size="8.6">Eu</text><text x="435.63" y="153.3" text-anchor="middle" font-size="8.6">Gd</text><text x="450.52" y="153.3" text-anchor="middle" font-size="8.6">Tb</text><text x="465.41" y="153.3" text-anchor="middle" font-size="8.6">Dy</text><text x="480.3" y="153.3" text-anchor="middle" font-size="8.6">Ho</text><text x="495.19" y="153.3" text-anchor="middle" font-size="8.6">Er</text><text x="510.08" y="153.3" text-anchor="middle" font-size="8.6">Tm</text><text x="524.97" y="153.3" text-anchor="middle" font-size="8.6">Yb</text><text x="539.86" y="153.3" text-anchor="middle" font-size="8.6">Lu</text><text transform="translate(301.6 75.76) rotate(-90)" text-anchor="middle" font-size="8.8" style="stroke-width:0.32px">Cpx/Chondrite</text><text x="530.8" y="19.8" text-anchor="middle" font-size="9.2">b</text><rect x="391.3" y="97.8" width="143.5" height="42.9" fill="#fff" stroke="#707070" stroke-width="1.15"/><text x="430" y="109.6" font-size="8.7" font-weight="bold">Porphyric Basalts</text><path d="M396.3 115.7H410" stroke="#6488d8" stroke-width="0.9"/><path d="M401.22 114.35L405.07 114.35L403.15 117.43Z" fill="#c8d4f0" stroke="#2552b8" stroke-width="1.1"/><text x="415.5" y="118.4" font-size="7.7">CVZ2 (Type 1)</text><path d="M396.3 124.1H410" stroke="#f8f46a" stroke-width="0.9"/><rect x="401.75" y="122.7" width="2.8" height="2.8" fill="#f8f480" stroke="#f4f000" stroke-width="1.1"/><text x="415.5" y="126.8" font-size="7.7">AY2 (Type 1)</text><path d="M396.3 132.5H410" stroke="#f26a40" stroke-width="0.9"/><path d="M403.15 130.52L405.13 132.5L403.15 134.48L401.17 132.5Z" fill="#f8a890" stroke="#f04818" stroke-width="1.1"/><text x="415.5" y="135.2" font-size="7.7">ALC3 (Type 2)</text><path d="M466.5 115.7H479.5" stroke="#ff7cff" stroke-width="0.9"/><path d="M471.13 115.7H474.87M473 113.83V117.57" stroke="#ff3cff" stroke-width="1.2"/><text x="484.6" y="118.4" font-size="7.7">CB21 (Type 2)</text><path d="M466.5 124.1H479.5" stroke="#78b894" stroke-width="0.9"/><path d="M473 122.1L474.7 124.1L473 126.09L471.3 124.1Z" fill="#3c9a64"/><text x="484.6" y="126.8" font-size="7.7">PM3 (Type 2)</text><path d="M39.5 290.5 L54.39 269 L69.28 257.8 L84.17 250 L113.95 240.6 L128.84 243 L143.73 241 L158.62 240.5 L173.51 237.7 L188.4 236.5 L203.29 241 L218.18 244 L233.07 244 L247.96 245" fill="none" stroke="#ffb0d8" stroke-width="0.8" stroke-linejoin="round"/><path d="M39.5 297.6 L54.39 277.7 L69.28 267.3 L84.17 264 L113.95 255.2 L128.84 250.2 L143.73 246.4 L158.62 241.6 L173.51 245.5 L188.4 244 L203.29 245 L218.18 247 L233.07 247.8 L247.96 248.2" fill="none" stroke="#ffb0d8" stroke-width="0.8" stroke-linejoin="round"/><path d="M39.5 292 L54.39 275 L69.28 263.5 L84.17 255.5 L113.95 246.4 L128.84 243.4 L143.73 238.9 L158.62 239.3 L173.51 239.6 L188.4 239.3 L203.29 241.6 L218.18 243.9 L233.07 243.1 L247.96 244.7" fill="none" stroke="#ff6a70" stroke-width="0.8" stroke-linejoin="round"/><path d="M39.5 302.7 L54.39 282 L69.28 270.7 L84.17 257 L113.95 252.5 L128.84 250.5 L143.73 243 L158.62 244.7 L173.51 241.6 L188.4 244.7 L203.29 247.3 L218.18 248.9 L233.07 251.6 L247.96 251.6" fill="none" stroke="#ff6a70" stroke-width="0.8" stroke-linejoin="round"/><path d="M39.5 287.62L40.42 289.58L42.38 290.5L40.42 291.42L39.5 293.38L38.58 291.42L36.62 290.5L38.58 289.58Z" fill="#ff8cc8"/><path d="M54.39 266.12L55.31 268.08L57.27 269L55.31 269.92L54.39 271.88L53.47 269.92L51.52 269L53.47 268.08Z" fill="#ff8cc8"/><path d="M69.28 254.93L70.2 256.88L72.16 257.8L70.2 258.72L69.28 260.68L68.36 258.72L66.41 257.8L68.36 256.88Z" fill="#ff8cc8"/><path d="M84.17 247.12L85.09 249.08L87.05 250L85.09 250.92L84.17 252.88L83.25 250.92L81.3 250L83.25 249.08Z" fill="#ff8cc8"/><path d="M113.95 237.72L114.87 239.68L116.83 240.6L114.87 241.52L113.95 243.47L113.03 241.52L111.08 240.6L113.03 239.68Z" fill="#ff8cc8"/><path d="M128.84 240.12L129.76 242.08L131.72 243L129.76 243.92L128.84 245.88L127.92 243.92L125.97 243L127.92 242.08Z" fill="#ff8cc8"/><path d="M143.73 238.12L144.65 240.08L146.61 241L144.65 241.92L143.73 243.88L142.81 241.92L140.86 241L142.81 240.08Z" fill="#ff8cc8"/><path d="M158.62 237.62L159.54 239.58L161.5 240.5L159.54 241.42L158.62 243.38L157.7 241.42L155.75 240.5L157.7 239.58Z" fill="#ff8cc8"/><path d="M173.51 234.82L174.43 236.78L176.38 237.7L174.43 238.62L173.51 240.57L172.59 238.62L170.63 237.7L172.59 236.78Z" fill="#ff8cc8"/><path d="M188.4 233.62L189.32 235.58L191.28 236.5L189.32 237.42L188.4 239.38L187.48 237.42L185.53 236.5L187.48 235.58Z" fill="#ff8cc8"/><path d="M203.29 238.12L204.21 240.08L206.17 241L204.21 241.92L203.29 243.88L202.37 241.92L200.42 241L202.37 240.08Z" fill="#ff8cc8"/><path d="M218.18 241.12L219.1 243.08L221.06 244L219.1 244.92L218.18 246.88L217.26 244.92L215.31 244L217.26 243.08Z" fill="#ff8cc8"/><path d="M233.07 241.12L233.99 243.08L235.94 244L233.99 244.92L233.07 246.88L232.15 244.92L230.19 244L232.15 243.08Z" fill="#ff8cc8"/><path d="M247.96 242.12L248.88 244.08L250.84 245L248.88 245.92L247.96 247.88L247.04 245.92L245.09 245L247.04 244.08Z" fill="#ff8cc8"/><path d="M39.5 294.73L40.42 296.68L42.38 297.6L40.42 298.52L39.5 300.48L38.58 298.52L36.62 297.6L38.58 296.68Z" fill="#ff8cc8"/><path d="M54.39 274.82L55.31 276.78L57.27 277.7L55.31 278.62L54.39 280.57L53.47 278.62L51.52 277.7L53.47 276.78Z" fill="#ff8cc8"/><path d="M69.28 264.43L70.2 266.38L72.16 267.3L70.2 268.22L69.28 270.18L68.36 268.22L66.41 267.3L68.36 266.38Z" fill="#ff8cc8"/><path d="M84.17 261.12L85.09 263.08L87.05 264L85.09 264.92L84.17 266.88L83.25 264.92L81.3 264L83.25 263.08Z" fill="#ff8cc8"/><path d="M113.95 252.32L114.87 254.28L116.83 255.2L114.87 256.12L113.95 258.07L113.03 256.12L111.08 255.2L113.03 254.28Z" fill="#ff8cc8"/><path d="M128.84 247.32L129.76 249.28L131.72 250.2L129.76 251.12L128.84 253.07L127.92 251.12L125.97 250.2L127.92 249.28Z" fill="#ff8cc8"/><path d="M143.73 243.53L144.65 245.48L146.61 246.4L144.65 247.32L143.73 249.28L142.81 247.32L140.86 246.4L142.81 245.48Z" fill="#ff8cc8"/><path d="M158.62 238.72L159.54 240.68L161.5 241.6L159.54 242.52L158.62 244.47L157.7 242.52L155.75 241.6L157.7 240.68Z" fill="#ff8cc8"/><path d="M173.51 242.62L174.43 244.58L176.38 245.5L174.43 246.42L173.51 248.38L172.59 246.42L170.63 245.5L172.59 244.58Z" fill="#ff8cc8"/><path d="M188.4 241.12L189.32 243.08L191.28 244L189.32 244.92L188.4 246.88L187.48 244.92L185.53 244L187.48 243.08Z" fill="#ff8cc8"/><path d="M203.29 242.12L204.21 244.08L206.17 245L204.21 245.92L203.29 247.88L202.37 245.92L200.42 245L202.37 244.08Z" fill="#ff8cc8"/><path d="M218.18 244.12L219.1 246.08L221.06 247L219.1 247.92L218.18 249.88L217.26 247.92L215.31 247L217.26 246.08Z" fill="#ff8cc8"/><path d="M233.07 244.93L233.99 246.88L235.94 247.8L233.99 248.72L233.07 250.68L232.15 248.72L230.19 247.8L232.15 246.88Z" fill="#ff8cc8"/><path d="M247.96 245.32L248.88 247.28L250.84 248.2L248.88 249.12L247.96 251.07L247.04 249.12L245.09 248.2L247.04 247.28Z" fill="#ff8cc8"/><path d="M39.5 289.12L40.42 291.08L42.38 292L40.42 292.92L39.5 294.88L38.58 292.92L36.62 292L38.58 291.08Z" fill="#ff1020"/><path d="M54.39 272.12L55.31 274.08L57.27 275L55.31 275.92L54.39 277.88L53.47 275.92L51.52 275L53.47 274.08Z" fill="#ff1020"/><path d="M69.28 260.62L70.2 262.58L72.16 263.5L70.2 264.42L69.28 266.38L68.36 264.42L66.41 263.5L68.36 262.58Z" fill="#ff1020"/><path d="M84.17 252.62L85.09 254.58L87.05 255.5L85.09 256.42L84.17 258.38L83.25 256.42L81.3 255.5L83.25 254.58Z" fill="#ff1020"/><path d="M113.95 243.53L114.87 245.48L116.83 246.4L114.87 247.32L113.95 249.28L113.03 247.32L111.08 246.4L113.03 245.48Z" fill="#ff1020"/><path d="M128.84 240.53L129.76 242.48L131.72 243.4L129.76 244.32L128.84 246.28L127.92 244.32L125.97 243.4L127.92 242.48Z" fill="#ff1020"/><path d="M143.73 236.03L144.65 237.98L146.61 238.9L144.65 239.82L143.73 241.78L142.81 239.82L140.86 238.9L142.81 237.98Z" fill="#ff1020"/><path d="M158.62 236.43L159.54 238.38L161.5 239.3L159.54 240.22L158.62 242.18L157.7 240.22L155.75 239.3L157.7 238.38Z" fill="#ff1020"/><path d="M173.51 236.72L174.43 238.68L176.38 239.6L174.43 240.52L173.51 242.47L172.59 240.52L170.63 239.6L172.59 238.68Z" fill="#ff1020"/><path d="M188.4 236.43L189.32 238.38L191.28 239.3L189.32 240.22L188.4 242.18L187.48 240.22L185.53 239.3L187.48 238.38Z" fill="#ff1020"/><path d="M203.29 238.72L204.21 240.68L206.17 241.6L204.21 242.52L203.29 244.47L202.37 242.52L200.42 241.6L202.37 240.68Z" fill="#ff1020"/><path d="M218.18 241.03L219.1 242.98L221.06 243.9L219.1 244.82L218.18 246.78L217.26 244.82L215.31 243.9L217.26 242.98Z" fill="#ff1020"/><path d="M233.07 240.22L233.99 242.18L235.94 243.1L233.99 244.02L233.07 245.97L232.15 244.02L230.19 243.1L232.15 242.18Z" fill="#ff1020"/><path d="M247.96 241.82L248.88 243.78L250.84 244.7L248.88 245.62L247.96 247.57L247.04 245.62L245.09 244.7L247.04 243.78Z" fill="#ff1020"/><path d="M39.5 299.82L40.42 301.78L42.38 302.7L40.42 303.62L39.5 305.57L38.58 303.62L36.62 302.7L38.58 301.78Z" fill="#ff1020"/><path d="M54.39 279.12L55.31 281.08L57.27 282L55.31 282.92L54.39 284.88L53.47 282.92L51.52 282L53.47 281.08Z" fill="#ff1020"/><path d="M69.28 267.82L70.2 269.78L72.16 270.7L70.2 271.62L69.28 273.57L68.36 271.62L66.41 270.7L68.36 269.78Z" fill="#ff1020"/><path d="M84.17 254.12L85.09 256.08L87.05 257L85.09 257.92L84.17 259.88L83.25 257.92L81.3 257L83.25 256.08Z" fill="#ff1020"/><path d="M113.95 249.62L114.87 251.58L116.83 252.5L114.87 253.42L113.95 255.38L113.03 253.42L111.08 252.5L113.03 251.58Z" fill="#ff1020"/><path d="M128.84 247.62L129.76 249.58L131.72 250.5L129.76 251.42L128.84 253.38L127.92 251.42L125.97 250.5L127.92 249.58Z" fill="#ff1020"/><path d="M143.73 240.12L144.65 242.08L146.61 243L144.65 243.92L143.73 245.88L142.81 243.92L140.86 243L142.81 242.08Z" fill="#ff1020"/><path d="M158.62 241.82L159.54 243.78L161.5 244.7L159.54 245.62L158.62 247.57L157.7 245.62L155.75 244.7L157.7 243.78Z" fill="#ff1020"/><path d="M173.51 238.72L174.43 240.68L176.38 241.6L174.43 242.52L173.51 244.47L172.59 242.52L170.63 241.6L172.59 240.68Z" fill="#ff1020"/><path d="M188.4 241.82L189.32 243.78L191.28 244.7L189.32 245.62L188.4 247.57L187.48 245.62L185.53 244.7L187.48 243.78Z" fill="#ff1020"/><path d="M203.29 244.43L204.21 246.38L206.17 247.3L204.21 248.22L203.29 250.18L202.37 248.22L200.42 247.3L202.37 246.38Z" fill="#ff1020"/><path d="M218.18 246.03L219.1 247.98L221.06 248.9L219.1 249.82L218.18 251.78L217.26 249.82L215.31 248.9L217.26 247.98Z" fill="#ff1020"/><path d="M233.07 248.72L233.99 250.68L235.94 251.6L233.99 252.52L233.07 254.47L232.15 252.52L230.19 251.6L232.15 250.68Z" fill="#ff1020"/><path d="M247.96 248.72L248.88 250.68L250.84 251.6L248.88 252.52L247.96 254.47L247.04 252.52L245.09 251.6L247.04 250.68Z" fill="#ff1020"/><path d="M24.9 194.74V329H248.46" fill="none" stroke="#787878" stroke-width="1.1"/><path d="M24.9 329h4.2M24.9 312.68h2.5M24.9 303.14h2.5M24.9 296.37h2.5M24.9 291.12h2.5M24.9 286.82h2.5M24.9 283.2h2.5M24.9 280.05h2.5M24.9 277.28h2.5M24.9 274.8h4.2M24.9 258.48h2.5M24.9 248.94h2.5M24.9 242.17h2.5M24.9 236.92h2.5M24.9 232.62h2.5M24.9 229h2.5M24.9 225.85h2.5M24.9 223.08h2.5M24.9 220.6h4.2M24.9 204.28h2.5M24.9 194.74h2.5M39.5 328.7v-2.1M54.39 328.7v-2.1M69.28 328.7v-2.1M84.17 328.7v-2.1M99.06 328.7v-2.1M113.95 328.7v-2.1M128.84 328.7v-2.1M143.73 328.7v-2.1M158.62 328.7v-2.1M173.51 328.7v-2.1M188.4 328.7v-2.1M203.29 328.7v-2.1M218.18 328.7v-2.1M233.07 328.7v-2.1M247.96 328.7v-2.1" stroke="#6a6a6a" stroke-width="0.95" fill="none"/><text x="24.6" y="223.7" text-anchor="end" font-size="8.4">10</text><text x="24.6" y="277.9" text-anchor="end" font-size="8.4">1</text><text x="24.6" y="332.1" text-anchor="end" font-size="8.4">0.1</text><text x="39.5" y="339" text-anchor="middle" font-size="8.6">La</text><text x="54.39" y="339" text-anchor="middle" font-size="8.6">Ce</text><text x="69.28" y="339" text-anchor="middle" font-size="8.6">Pr</text><text x="84.17" y="339" text-anchor="middle" font-size="8.6">Nd</text><text x="113.95" y="339" text-anchor="middle" font-size="8.6">Sm</text><text x="128.84" y="339" text-anchor="middle" font-size="8.6">Eu</text><text x="143.73" y="339" text-anchor="middle" font-size="8.6">Gd</text><text x="158.62" y="339" text-anchor="middle" font-size="8.6">Tb</text><text x="173.51" y="339" text-anchor="middle" font-size="8.6">Dy</text><text x="188.4" y="339" text-anchor="middle" font-size="8.6">Ho</text><text x="203.29" y="339" text-anchor="middle" font-size="8.6">Er</text><text x="218.18" y="339" text-anchor="middle" font-size="8.6">Tm</text><text x="233.07" y="339" text-anchor="middle" font-size="8.6">Yb</text><text x="247.96" y="339" text-anchor="middle" font-size="8.6">Lu</text><text transform="translate(10 261.27) rotate(-90)" text-anchor="middle" font-size="8.8" style="stroke-width:0.32px">Cpx/Chondrite</text><text x="235.7" y="216.2" text-anchor="middle" font-size="9.2">c</text><rect x="157.6" y="292.4" width="87.5" height="28.6" fill="#fff" stroke="#707070" stroke-width="1.15"/><text x="184.3" y="304.8" font-size="8.7" font-weight="bold">Dolerites</text><path d="M162.4 312.8H175.8" stroke="#ffb0d8" stroke-width="0.9"/><path d="M169.1 309.93L170.02 311.88L171.98 312.8L170.02 313.72L169.1 315.68L168.18 313.72L166.23 312.8L168.18 311.88Z" fill="#ff8cc8"/><text x="181.5" y="315.5" font-size="7.7">CB5</text><path d="M203 312.8H216.8" stroke="#ff6a70" stroke-width="0.9"/><path d="M209.9 309.93L210.82 311.88L212.78 312.8L210.82 313.72L209.9 315.68L208.98 313.72L207.03 312.8L208.98 311.88Z" fill="#ff1020"/><text x="222.2" y="315.5" font-size="7.7">SVC3</text><path d="M331.4 280.9 L346.29 265.5 L361.18 259 L376.07 251 L405.85 241.1 L420.74 241.1 L435.63 233.7 L450.52 238.5 L465.41 236.5 L480.3 233.6 L495.19 233.6 L510.08 244.4 L524.97 227.7 L539.86 225.7" fill="none" stroke="#88f4fc" stroke-width="0.8" stroke-linejoin="round"/><path d="M331.4 288.2 L346.29 271.8 L361.18 267.3 L376.07 255.8 L405.85 241.1 L420.74 241.1 L435.63 235 L450.52 238.6 L465.41 228.7 L480.3 236 L495.19 236 L510.08 238 L524.97 236.5 L539.86 241.4" fill="none" stroke="#88f4fc" stroke-width="0.8" stroke-linejoin="round"/><path d="M331.4 270 L346.29 259 L361.18 252 L376.07 244.4 L405.85 237 L420.74 232.9 L435.63 234.5 L450.52 232.9 L465.41 233.2 L480.3 231.6 L495.19 236.5 L510.08 233.6 L524.97 240.4 L539.86 240.4" fill="none" stroke="#e4e290" stroke-width="0.8" stroke-linejoin="round"/><path d="M331.4 271.8 L346.29 262 L361.18 254.5 L376.07 247.3 L405.85 238.5 L420.74 235 L435.63 236 L450.52 234.5 L465.41 235.1 L480.3 236.5 L495.19 236.5 L510.08 237.5 L524.97 243.4 L539.86 247.3" fill="none" stroke="#e4e290" stroke-width="0.8" stroke-linejoin="round"/><path d="M331.4 273.6 L346.29 265.5 L361.18 256.4 L376.07 249.3 L405.85 239.5 L420.74 237 L435.63 237 L450.52 235.5 L465.41 234 L480.3 234 L495.19 236 L510.08 235.5 L524.97 241.5 L539.86 244" fill="none" stroke="#e4e290" stroke-width="0.8" stroke-linejoin="round"/><path d="M331.4 264.5 L346.29 255.5 L361.18 245.5 L376.07 237.8 L405.85 227.2 L420.74 230.5 L435.63 222.3 L450.52 223.4 L465.41 224.1 L480.3 223.7 L495.19 226.7 L510.08 226.7 L524.97 230.6 L539.86 228.5" fill="none" stroke="#1ca658" stroke-width="1.0" stroke-linejoin="round"/><path d="M331.4 277.3 L346.29 258.2 L361.18 248 L376.07 239.5 L405.85 230.5 L420.74 231 L435.63 224 L450.52 227.7 L465.41 226.1 L480.3 228.7 L495.19 229.6 L510.08 233.6 L524.97 231.6 L539.86 233.6" fill="none" stroke="#1ca658" stroke-width="1.0" stroke-linejoin="round"/><path d="M331.4 272.5 L346.29 257 L361.18 247 L376.07 238.5 L405.85 232.9 L420.74 230.5 L435.63 223 L450.52 226.4 L465.41 225 L480.3 226 L495.19 228 L510.08 230 L524.97 229 L539.86 231" fill="none" stroke="#1ca658" stroke-width="1.0" stroke-linejoin="round"/><rect x="329.12" y="278.62" width="4.56" height="4.56" fill="#40eefc"/><rect x="344.01" y="263.22" width="4.56" height="4.56" fill="#40eefc"/><rect x="358.9" y="256.72" width="4.56" height="4.56" fill="#40eefc"/><rect x="373.79" y="248.72" width="4.56" height="4.56" fill="#40eefc"/><rect x="403.57" y="238.82" width="4.56" height="4.56" fill="#40eefc"/><rect x="418.46" y="238.82" width="4.56" height="4.56" fill="#40eefc"/><rect x="433.35" y="231.42" width="4.56" height="4.56" fill="#40eefc"/><rect x="448.24" y="236.22" width="4.56" height="4.56" fill="#40eefc"/><rect x="463.13" y="234.22" width="4.56" height="4.56" fill="#40eefc"/><rect x="478.02" y="231.32" width="4.56" height="4.56" fill="#40eefc"/><rect x="492.91" y="231.32" width="4.56" height="4.56" fill="#40eefc"/><rect x="507.8" y="242.12" width="4.56" height="4.56" fill="#40eefc"/><rect x="522.69" y="225.42" width="4.56" height="4.56" fill="#40eefc"/><rect x="537.58" y="223.42" width="4.56" height="4.56" fill="#40eefc"/><rect x="329.12" y="285.92" width="4.56" height="4.56" fill="#40eefc"/><rect x="344.01" y="269.52" width="4.56" height="4.56" fill="#40eefc"/><rect x="358.9" y="265.02" width="4.56" height="4.56" fill="#40eefc"/><rect x="373.79" y="253.52" width="4.56" height="4.56" fill="#40eefc"/><rect x="403.57" y="238.82" width="4.56" height="4.56" fill="#40eefc"/><rect x="418.46" y="238.82" width="4.56" height="4.56" fill="#40eefc"/><rect x="433.35" y="232.72" width="4.56" height="4.56" fill="#40eefc"/><rect x="448.24" y="236.32" width="4.56" height="4.56" fill="#40eefc"/><rect x="463.13" y="226.42" width="4.56" height="4.56" fill="#40eefc"/><rect x="478.02" y="233.72" width="4.56" height="4.56" fill="#40eefc"/><rect x="492.91" y="233.72" width="4.56" height="4.56" fill="#40eefc"/><rect x="507.8" y="235.72" width="4.56" height="4.56" fill="#40eefc"/><rect x="522.69" y="234.22" width="4.56" height="4.56" fill="#40eefc"/><rect x="537.58" y="239.12" width="4.56" height="4.56" fill="#40eefc"/><rect x="329.61" y="268.21" width="3.57" height="3.57" fill="#fbfae2" stroke="#d8d45a" stroke-width="0.9"/><path d="M329.21 270H333.58M331.4 267.81V272.19" stroke="#d8d45a" stroke-width="0.7"/><rect x="344.5" y="257.21" width="3.57" height="3.57" fill="#fbfae2" stroke="#d8d45a" stroke-width="0.9"/><path d="M344.1 259H348.47M346.29 256.81V261.19" stroke="#d8d45a" stroke-width="0.7"/><rect x="359.39" y="250.22" width="3.57" height="3.57" fill="#fbfae2" stroke="#d8d45a" stroke-width="0.9"/><path d="M358.99 252H363.36M361.18 249.81V254.19" stroke="#d8d45a" stroke-width="0.7"/><rect x="374.28" y="242.62" width="3.57" height="3.57" fill="#fbfae2" stroke="#d8d45a" stroke-width="0.9"/><path d="M373.88 244.4H378.25M376.07 242.22V246.59" stroke="#d8d45a" stroke-width="0.7"/><rect x="404.06" y="235.22" width="3.57" height="3.57" fill="#fbfae2" stroke="#d8d45a" stroke-width="0.9"/><path d="M403.66 237H408.03M405.85 234.81V239.19" stroke="#d8d45a" stroke-width="0.7"/><rect x="418.95" y="231.12" width="3.57" height="3.57" fill="#fbfae2" stroke="#d8d45a" stroke-width="0.9"/><path d="M418.56 232.9H422.93M420.74 230.72V235.09" stroke="#d8d45a" stroke-width="0.7"/><rect x="433.84" y="232.72" width="3.57" height="3.57" fill="#fbfae2" stroke="#d8d45a" stroke-width="0.9"/><path d="M433.44 234.5H437.81M435.63 232.31V236.69" stroke="#d8d45a" stroke-width="0.7"/><rect x="448.73" y="231.12" width="3.57" height="3.57" fill="#fbfae2" stroke="#d8d45a" stroke-width="0.9"/><path d="M448.33 232.9H452.7M450.52 230.72V235.09" stroke="#d8d45a" stroke-width="0.7"/><rect x="463.62" y="231.41" width="3.57" height="3.57" fill="#fbfae2" stroke="#d8d45a" stroke-width="0.9"/><path d="M463.22 233.2H467.59M465.41 231.01V235.38" stroke="#d8d45a" stroke-width="0.7"/><rect x="478.51" y="229.81" width="3.57" height="3.57" fill="#fbfae2" stroke="#d8d45a" stroke-width="0.9"/><path d="M478.11 231.6H482.48M480.3 229.41V233.78" stroke="#d8d45a" stroke-width="0.7"/><rect x="493.4" y="234.72" width="3.57" height="3.57" fill="#fbfae2" stroke="#d8d45a" stroke-width="0.9"/><path d="M493 236.5H497.38M495.19 234.31V238.69" stroke="#d8d45a" stroke-width="0.7"/><rect x="508.29" y="231.81" width="3.57" height="3.57" fill="#fbfae2" stroke="#d8d45a" stroke-width="0.9"/><path d="M507.89 233.6H512.26M510.08 231.41V235.78" stroke="#d8d45a" stroke-width="0.7"/><rect x="523.19" y="238.62" width="3.57" height="3.57" fill="#fbfae2" stroke="#d8d45a" stroke-width="0.9"/><path d="M522.79 240.4H527.15M524.97 238.22V242.59" stroke="#d8d45a" stroke-width="0.7"/><rect x="538.08" y="238.62" width="3.57" height="3.57" fill="#fbfae2" stroke="#d8d45a" stroke-width="0.9"/><path d="M537.68 240.4H542.04M539.86 238.22V242.59" stroke="#d8d45a" stroke-width="0.7"/><rect x="329.61" y="270.01" width="3.57" height="3.57" fill="#fbfae2" stroke="#d8d45a" stroke-width="0.9"/><path d="M329.21 271.8H333.58M331.4 269.62V273.99" stroke="#d8d45a" stroke-width="0.7"/><rect x="344.5" y="260.21" width="3.57" height="3.57" fill="#fbfae2" stroke="#d8d45a" stroke-width="0.9"/><path d="M344.1 262H348.47M346.29 259.81V264.19" stroke="#d8d45a" stroke-width="0.7"/><rect x="359.39" y="252.72" width="3.57" height="3.57" fill="#fbfae2" stroke="#d8d45a" stroke-width="0.9"/><path d="M358.99 254.5H363.36M361.18 252.31V256.69" stroke="#d8d45a" stroke-width="0.7"/><rect x="374.28" y="245.52" width="3.57" height="3.57" fill="#fbfae2" stroke="#d8d45a" stroke-width="0.9"/><path d="M373.88 247.3H378.25M376.07 245.12V249.49" stroke="#d8d45a" stroke-width="0.7"/><rect x="404.06" y="236.72" width="3.57" height="3.57" fill="#fbfae2" stroke="#d8d45a" stroke-width="0.9"/><path d="M403.66 238.5H408.03M405.85 236.31V240.69" stroke="#d8d45a" stroke-width="0.7"/><rect x="418.95" y="233.22" width="3.57" height="3.57" fill="#fbfae2" stroke="#d8d45a" stroke-width="0.9"/><path d="M418.56 235H422.93M420.74 232.81V237.19" stroke="#d8d45a" stroke-width="0.7"/><rect x="433.84" y="234.22" width="3.57" height="3.57" fill="#fbfae2" stroke="#d8d45a" stroke-width="0.9"/><path d="M433.44 236H437.81M435.63 233.81V238.19" stroke="#d8d45a" stroke-width="0.7"/><rect x="448.73" y="232.72" width="3.57" height="3.57" fill="#fbfae2" stroke="#d8d45a" stroke-width="0.9"/><path d="M448.33 234.5H452.7M450.52 232.31V236.69" stroke="#d8d45a" stroke-width="0.7"/><rect x="463.62" y="233.31" width="3.57" height="3.57" fill="#fbfae2" stroke="#d8d45a" stroke-width="0.9"/><path d="M463.22 235.1H467.59M465.41 232.91V237.28" stroke="#d8d45a" stroke-width="0.7"/><rect x="478.51" y="234.72" width="3.57" height="3.57" fill="#fbfae2" stroke="#d8d45a" stroke-width="0.9"/><path d="M478.11 236.5H482.48M480.3 234.31V238.69" stroke="#d8d45a" stroke-width="0.7"/><rect x="493.4" y="234.72" width="3.57" height="3.57" fill="#fbfae2" stroke="#d8d45a" stroke-width="0.9"/><path d="M493 236.5H497.38M495.19 234.31V238.69" stroke="#d8d45a" stroke-width="0.7"/><rect x="508.29" y="235.72" width="3.57" height="3.57" fill="#fbfae2" stroke="#d8d45a" stroke-width="0.9"/><path d="M507.89 237.5H512.26M510.08 235.31V239.69" stroke="#d8d45a" stroke-width="0.7"/><rect x="523.19" y="241.62" width="3.57" height="3.57" fill="#fbfae2" stroke="#d8d45a" stroke-width="0.9"/><path d="M522.79 243.4H527.15M524.97 241.22V245.59" stroke="#d8d45a" stroke-width="0.7"/><rect x="538.08" y="245.52" width="3.57" height="3.57" fill="#fbfae2" stroke="#d8d45a" stroke-width="0.9"/><path d="M537.68 247.3H542.04M539.86 245.12V249.49" stroke="#d8d45a" stroke-width="0.7"/><rect x="329.61" y="271.81" width="3.57" height="3.57" fill="#fbfae2" stroke="#d8d45a" stroke-width="0.9"/><path d="M329.21 273.6H333.58M331.4 271.42V275.79" stroke="#d8d45a" stroke-width="0.7"/><rect x="344.5" y="263.71" width="3.57" height="3.57" fill="#fbfae2" stroke="#d8d45a" stroke-width="0.9"/><path d="M344.1 265.5H348.47M346.29 263.31V267.69" stroke="#d8d45a" stroke-width="0.7"/><rect x="359.39" y="254.61" width="3.57" height="3.57" fill="#fbfae2" stroke="#d8d45a" stroke-width="0.9"/><path d="M358.99 256.4H363.36M361.18 254.21V258.58" stroke="#d8d45a" stroke-width="0.7"/><rect x="374.28" y="247.52" width="3.57" height="3.57" fill="#fbfae2" stroke="#d8d45a" stroke-width="0.9"/><path d="M373.88 249.3H378.25M376.07 247.12V251.49" stroke="#d8d45a" stroke-width="0.7"/><rect x="404.06" y="237.72" width="3.57" height="3.57" fill="#fbfae2" stroke="#d8d45a" stroke-width="0.9"/><path d="M403.66 239.5H408.03M405.85 237.31V241.69" stroke="#d8d45a" stroke-width="0.7"/><rect x="418.95" y="235.22" width="3.57" height="3.57" fill="#fbfae2" stroke="#d8d45a" stroke-width="0.9"/><path d="M418.56 237H422.93M420.74 234.81V239.19" stroke="#d8d45a" stroke-width="0.7"/><rect x="433.84" y="235.22" width="3.57" height="3.57" fill="#fbfae2" stroke="#d8d45a" stroke-width="0.9"/><path d="M433.44 237H437.81M435.63 234.81V239.19" stroke="#d8d45a" stroke-width="0.7"/><rect x="448.73" y="233.72" width="3.57" height="3.57" fill="#fbfae2" stroke="#d8d45a" stroke-width="0.9"/><path d="M448.33 235.5H452.7M450.52 233.31V237.69" stroke="#d8d45a" stroke-width="0.7"/><rect x="463.62" y="232.22" width="3.57" height="3.57" fill="#fbfae2" stroke="#d8d45a" stroke-width="0.9"/><path d="M463.22 234H467.59M465.41 231.81V236.19" stroke="#d8d45a" stroke-width="0.7"/><rect x="478.51" y="232.22" width="3.57" height="3.57" fill="#fbfae2" stroke="#d8d45a" stroke-width="0.9"/><path d="M478.11 234H482.48M480.3 231.81V236.19" stroke="#d8d45a" stroke-width="0.7"/><rect x="493.4" y="234.22" width="3.57" height="3.57" fill="#fbfae2" stroke="#d8d45a" stroke-width="0.9"/><path d="M493 236H497.38M495.19 233.81V238.19" stroke="#d8d45a" stroke-width="0.7"/><rect x="508.29" y="233.72" width="3.57" height="3.57" fill="#fbfae2" stroke="#d8d45a" stroke-width="0.9"/><path d="M507.89 235.5H512.26M510.08 233.31V237.69" stroke="#d8d45a" stroke-width="0.7"/><rect x="523.19" y="239.72" width="3.57" height="3.57" fill="#fbfae2" stroke="#d8d45a" stroke-width="0.9"/><path d="M522.79 241.5H527.15M524.97 239.31V243.69" stroke="#d8d45a" stroke-width="0.7"/><rect x="538.08" y="242.22" width="3.57" height="3.57" fill="#fbfae2" stroke="#d8d45a" stroke-width="0.9"/><path d="M537.68 244H542.04M539.86 241.81V246.19" stroke="#d8d45a" stroke-width="0.7"/><path d="M331.4 261.5L332.36 263.54L334.4 264.5L332.36 265.46L331.4 267.5L330.44 265.46L328.4 264.5L330.44 263.54Z" fill="#0e9444"/><path d="M346.29 252.5L347.25 254.54L349.29 255.5L347.25 256.46L346.29 258.5L345.33 256.46L343.29 255.5L345.33 254.54Z" fill="#0e9444"/><path d="M361.18 242.5L362.14 244.54L364.18 245.5L362.14 246.46L361.18 248.5L360.22 246.46L358.18 245.5L360.22 244.54Z" fill="#0e9444"/><path d="M376.07 234.8L377.03 236.84L379.07 237.8L377.03 238.76L376.07 240.8L375.11 238.76L373.07 237.8L375.11 236.84Z" fill="#0e9444"/><path d="M405.85 224.2L406.81 226.24L408.85 227.2L406.81 228.16L405.85 230.2L404.89 228.16L402.85 227.2L404.89 226.24Z" fill="#0e9444"/><path d="M420.74 227.5L421.7 229.54L423.74 230.5L421.7 231.46L420.74 233.5L419.78 231.46L417.74 230.5L419.78 229.54Z" fill="#0e9444"/><path d="M435.63 219.3L436.59 221.34L438.63 222.3L436.59 223.26L435.63 225.3L434.67 223.26L432.63 222.3L434.67 221.34Z" fill="#0e9444"/><path d="M450.52 220.4L451.48 222.44L453.52 223.4L451.48 224.36L450.52 226.4L449.56 224.36L447.52 223.4L449.56 222.44Z" fill="#0e9444"/><path d="M465.41 221.1L466.37 223.14L468.41 224.1L466.37 225.06L465.41 227.1L464.45 225.06L462.41 224.1L464.45 223.14Z" fill="#0e9444"/><path d="M480.3 220.7L481.26 222.74L483.3 223.7L481.26 224.66L480.3 226.7L479.34 224.66L477.3 223.7L479.34 222.74Z" fill="#0e9444"/><path d="M495.19 223.7L496.15 225.74L498.19 226.7L496.15 227.66L495.19 229.7L494.23 227.66L492.19 226.7L494.23 225.74Z" fill="#0e9444"/><path d="M510.08 223.7L511.04 225.74L513.08 226.7L511.04 227.66L510.08 229.7L509.12 227.66L507.08 226.7L509.12 225.74Z" fill="#0e9444"/><path d="M524.97 227.6L525.93 229.64L527.97 230.6L525.93 231.56L524.97 233.6L524.01 231.56L521.97 230.6L524.01 229.64Z" fill="#0e9444"/><path d="M539.86 225.5L540.82 227.54L542.86 228.5L540.82 229.46L539.86 231.5L538.9 229.46L536.86 228.5L538.9 227.54Z" fill="#0e9444"/><path d="M331.4 274.3L332.36 276.34L334.4 277.3L332.36 278.26L331.4 280.3L330.44 278.26L328.4 277.3L330.44 276.34Z" fill="#0e9444"/><path d="M346.29 255.2L347.25 257.24L349.29 258.2L347.25 259.16L346.29 261.2L345.33 259.16L343.29 258.2L345.33 257.24Z" fill="#0e9444"/><path d="M361.18 245L362.14 247.04L364.18 248L362.14 248.96L361.18 251L360.22 248.96L358.18 248L360.22 247.04Z" fill="#0e9444"/><path d="M376.07 236.5L377.03 238.54L379.07 239.5L377.03 240.46L376.07 242.5L375.11 240.46L373.07 239.5L375.11 238.54Z" fill="#0e9444"/><path d="M405.85 227.5L406.81 229.54L408.85 230.5L406.81 231.46L405.85 233.5L404.89 231.46L402.85 230.5L404.89 229.54Z" fill="#0e9444"/><path d="M420.74 228L421.7 230.04L423.74 231L421.7 231.96L420.74 234L419.78 231.96L417.74 231L419.78 230.04Z" fill="#0e9444"/><path d="M435.63 221L436.59 223.04L438.63 224L436.59 224.96L435.63 227L434.67 224.96L432.63 224L434.67 223.04Z" fill="#0e9444"/><path d="M450.52 224.7L451.48 226.74L453.52 227.7L451.48 228.66L450.52 230.7L449.56 228.66L447.52 227.7L449.56 226.74Z" fill="#0e9444"/><path d="M465.41 223.1L466.37 225.14L468.41 226.1L466.37 227.06L465.41 229.1L464.45 227.06L462.41 226.1L464.45 225.14Z" fill="#0e9444"/><path d="M480.3 225.7L481.26 227.74L483.3 228.7L481.26 229.66L480.3 231.7L479.34 229.66L477.3 228.7L479.34 227.74Z" fill="#0e9444"/><path d="M495.19 226.6L496.15 228.64L498.19 229.6L496.15 230.56L495.19 232.6L494.23 230.56L492.19 229.6L494.23 228.64Z" fill="#0e9444"/><path d="M510.08 230.6L511.04 232.64L513.08 233.6L511.04 234.56L510.08 236.6L509.12 234.56L507.08 233.6L509.12 232.64Z" fill="#0e9444"/><path d="M524.97 228.6L525.93 230.64L527.97 231.6L525.93 232.56L524.97 234.6L524.01 232.56L521.97 231.6L524.01 230.64Z" fill="#0e9444"/><path d="M539.86 230.6L540.82 232.64L542.86 233.6L540.82 234.56L539.86 236.6L538.9 234.56L536.86 233.6L538.9 232.64Z" fill="#0e9444"/><path d="M331.4 269.5L332.36 271.54L334.4 272.5L332.36 273.46L331.4 275.5L330.44 273.46L328.4 272.5L330.44 271.54Z" fill="#0e9444"/><path d="M346.29 254L347.25 256.04L349.29 257L347.25 257.96L346.29 260L345.33 257.96L343.29 257L345.33 256.04Z" fill="#0e9444"/><path d="M361.18 244L362.14 246.04L364.18 247L362.14 247.96L361.18 250L360.22 247.96L358.18 247L360.22 246.04Z" fill="#0e9444"/><path d="M376.07 235.5L377.03 237.54L379.07 238.5L377.03 239.46L376.07 241.5L375.11 239.46L373.07 238.5L375.11 237.54Z" fill="#0e9444"/><path d="M405.85 229.9L406.81 231.94L408.85 232.9L406.81 233.86L405.85 235.9L404.89 233.86L402.85 232.9L404.89 231.94Z" fill="#0e9444"/><path d="M420.74 227.5L421.7 229.54L423.74 230.5L421.7 231.46L420.74 233.5L419.78 231.46L417.74 230.5L419.78 229.54Z" fill="#0e9444"/><path d="M435.63 220L436.59 222.04L438.63 223L436.59 223.96L435.63 226L434.67 223.96L432.63 223L434.67 222.04Z" fill="#0e9444"/><path d="M450.52 223.4L451.48 225.44L453.52 226.4L451.48 227.36L450.52 229.4L449.56 227.36L447.52 226.4L449.56 225.44Z" fill="#0e9444"/><path d="M465.41 222L466.37 224.04L468.41 225L466.37 225.96L465.41 228L464.45 225.96L462.41 225L464.45 224.04Z" fill="#0e9444"/><path d="M480.3 223L481.26 225.04L483.3 226L481.26 226.96L480.3 229L479.34 226.96L477.3 226L479.34 225.04Z" fill="#0e9444"/><path d="M495.19 225L496.15 227.04L498.19 228L496.15 228.96L495.19 231L494.23 228.96L492.19 228L494.23 227.04Z" fill="#0e9444"/><path d="M510.08 227L511.04 229.04L513.08 230L511.04 230.96L510.08 233L509.12 230.96L507.08 230L509.12 229.04Z" fill="#0e9444"/><path d="M524.97 226L525.93 228.04L527.97 229L525.93 229.96L524.97 232L524.01 229.96L521.97 229L524.01 228.04Z" fill="#0e9444"/><path d="M539.86 228L540.82 230.04L542.86 231L540.82 231.96L539.86 234L538.9 231.96L536.86 231L538.9 230.04Z" fill="#0e9444"/><path d="M316.6 197.59V331.6H540.36" fill="none" stroke="#787878" stroke-width="1.1"/><path d="M316.6 331.6h4.2M316.6 315.31h2.5M316.6 305.79h2.5M316.6 299.03h2.5M316.6 293.79h2.5M316.6 289.5h2.5M316.6 285.88h2.5M316.6 282.74h2.5M316.6 279.98h2.5M316.6 277.5h4.2M316.6 261.21h2.5M316.6 251.69h2.5M316.6 244.93h2.5M316.6 239.69h2.5M316.6 235.4h2.5M316.6 231.78h2.5M316.6 228.64h2.5M316.6 225.88h2.5M316.6 223.4h4.2M316.6 207.11h2.5M316.6 197.59h2.5M331.4 331.3v-2.1M346.29 331.3v-2.1M361.18 331.3v-2.1M376.07 331.3v-2.1M390.96 331.3v-2.1M405.85 331.3v-2.1M420.74 331.3v-2.1M435.63 331.3v-2.1M450.52 331.3v-2.1M465.41 331.3v-2.1M480.3 331.3v-2.1M495.19 331.3v-2.1M510.08 331.3v-2.1M524.97 331.3v-2.1M539.86 331.3v-2.1" stroke="#6a6a6a" stroke-width="0.95" fill="none"/><text x="316.3" y="226.5" text-anchor="end" font-size="8.4">10</text><text x="316.3" y="280.6" text-anchor="end" font-size="8.4">1</text><text x="316.3" y="334.7" text-anchor="end" font-size="8.4">0.1</text><text x="331.4" y="341.6" text-anchor="middle" font-size="8.6">La</text><text x="346.29" y="341.6" text-anchor="middle" font-size="8.6">Ce</text><text x="361.18" y="341.6" text-anchor="middle" font-size="8.6">Pr</text><text x="376.07" y="341.6" text-anchor="middle" font-size="8.6">Nd</text><text x="405.85" y="341.6" text-anchor="middle" font-size="8.6">Sm</text><text x="420.74" y="341.6" text-anchor="middle" font-size="8.6">Eu</text><text x="435.63" y="341.6" text-anchor="middle" font-size="8.6">Gd</text><text x="450.52" y="341.6" text-anchor="middle" font-size="8.6">Tb</text><text x="465.41" y="341.6" text-anchor="middle" font-size="8.6">Dy</text><text x="480.3" y="341.6" text-anchor="middle" font-size="8.6">Ho</text><text x="495.19" y="341.6" text-anchor="middle" font-size="8.6">Er</text><text x="510.08" y="341.6" text-anchor="middle" font-size="8.6">Tm</text><text x="524.97" y="341.6" text-anchor="middle" font-size="8.6">Yb</text><text x="539.86" y="341.6" text-anchor="middle" font-size="8.6">Lu</text><text transform="translate(301.7 263.99) rotate(-90)" text-anchor="middle" font-size="8.8" style="stroke-width:0.32px">Cpx/Chondrite</text><text x="527.9" y="210.6" text-anchor="middle" font-size="9.2">d</text><rect x="416.4" y="297.2" width="123.4" height="28.8" fill="#fff" stroke="#707070" stroke-width="1.15"/><text x="441.8" y="308.6" font-size="8.7" font-weight="bold">Anorogenic Basalts</text><path d="M421 317.6H436" stroke="#e4e290" stroke-width="0.9"/><rect x="426.71" y="315.81" width="3.57" height="3.57" fill="#fbfae2" stroke="#d8d45a" stroke-width="0.9"/><path d="M426.31 317.6H430.69M428.5 315.42V319.79" stroke="#d8d45a" stroke-width="0.7"/><text x="440.5" y="320.3" font-size="7.7">PL5</text><path d="M461 317.7H475" stroke="#1ca658" stroke-width="0.9"/><path d="M468 314.7L468.96 316.74L471 317.7L468.96 318.66L468 320.7L467.04 318.66L465 317.7L467.04 316.74Z" fill="#0e9444"/><text x="479.2" y="320.4" font-size="7.7">KR2</text><path d="M501.6 317.7H515.6" stroke="#88f4fc" stroke-width="0.9"/><rect x="506.32" y="315.42" width="4.56" height="4.56" fill="#40eefc"/><text x="520" y="320.4" font-size="7.7">PM1</text></svg>
</body></html>
